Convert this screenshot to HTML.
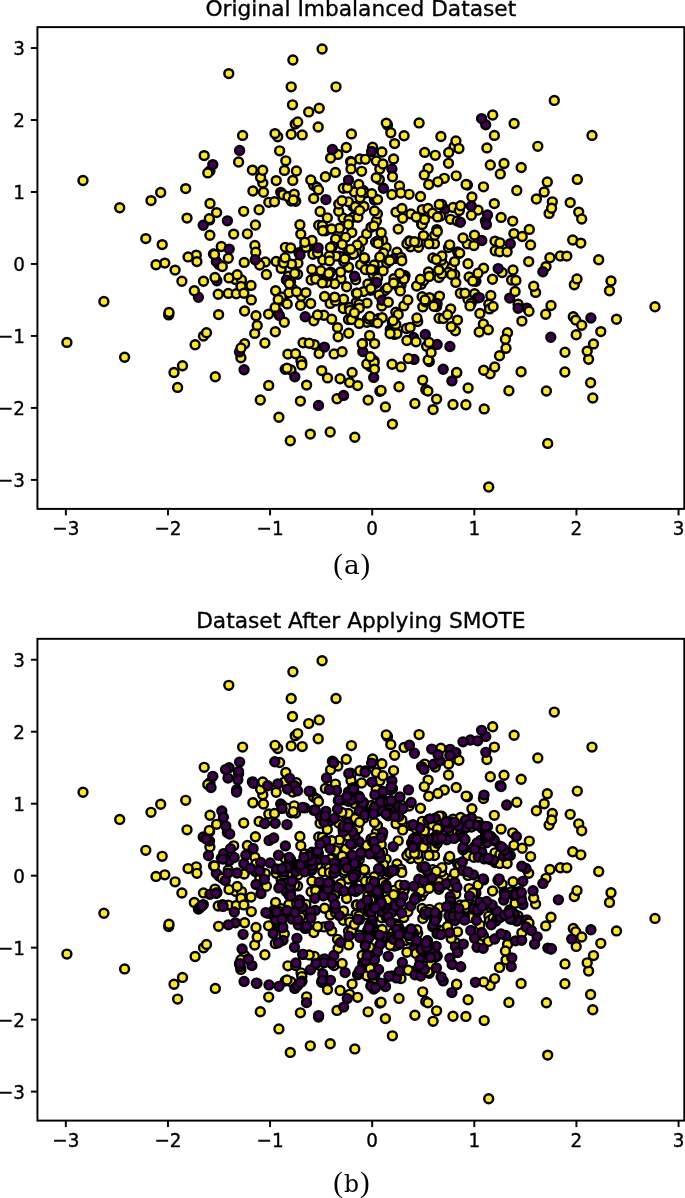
<!DOCTYPE html>
<html lang="en"><head><meta charset="utf-8"><title>SMOTE scatter plots</title>
<style>
html,body{margin:0;padding:0;background:#fff}
body{width:685px;height:1198px;overflow:hidden}
svg{display:block}
.tk,.tt{font-family:"DejaVu Sans","Liberation Sans",sans-serif;fill:#000;stroke:#000;stroke-width:0.35px}
.cp{font-family:"Liberation Serif","DejaVu Serif",serif;fill:#000}
.cpa{font-family:"DejaVu Serif","Liberation Serif",serif}
</style></head><body>
<svg width="685" height="1198" viewBox="0 0 685 1198">
<rect width="685" height="1198" fill="#fff"/>
<g stroke="#000" stroke-width="2.45">
<g fill="#fde725"><circle cx="277.7" cy="136.8" r="4.45"/><circle cx="528.7" cy="261.6" r="4.45"/></g><g fill="#440154"><circle cx="362.8" cy="351.6" r="4.45"/></g><g fill="#fde725"><circle cx="403.8" cy="305.9" r="4.45"/><circle cx="278.9" cy="417.2" r="4.45"/><circle cx="458.7" cy="253.4" r="4.45"/><circle cx="529.3" cy="229.4" r="4.45"/><circle cx="428.1" cy="168.4" r="4.45"/><circle cx="576.2" cy="334.7" r="4.45"/><circle cx="164.8" cy="263.1" r="4.45"/><circle cx="436.6" cy="306.5" r="4.45"/><circle cx="356.1" cy="302.6" r="4.45"/><circle cx="66.9" cy="342.4" r="4.45"/></g><g fill="#440154"><circle cx="390.3" cy="329.6" r="4.45"/></g><g fill="#fde725"><circle cx="235.4" cy="279.6" r="4.45"/><circle cx="359.8" cy="159.0" r="4.45"/><circle cx="292.9" cy="60.0" r="4.45"/><circle cx="288.3" cy="276.2" r="4.45"/><circle cx="521.9" cy="321.1" r="4.45"/></g><g fill="#440154"><circle cx="445.0" cy="209.3" r="4.45"/></g><g fill="#fde725"><circle cx="264.9" cy="343.0" r="4.45"/><circle cx="439.5" cy="296.1" r="4.45"/><circle cx="318.7" cy="225.2" r="4.45"/><circle cx="468.0" cy="263.7" r="4.45"/><circle cx="260.3" cy="400.0" r="4.45"/><circle cx="277.5" cy="312.2" r="4.45"/><circle cx="319.1" cy="353.6" r="4.45"/><circle cx="324.6" cy="296.5" r="4.45"/><circle cx="545.7" cy="314.2" r="4.45"/><circle cx="339.3" cy="256.1" r="4.45"/><circle cx="590.6" cy="382.8" r="4.45"/><circle cx="313.7" cy="253.5" r="4.45"/></g><g fill="#440154"><circle cx="367.5" cy="319.0" r="4.45"/><circle cx="318.5" cy="405.4" r="4.45"/><circle cx="239.6" cy="150.4" r="4.45"/></g><g fill="#fde725"><circle cx="573.3" cy="316.8" r="4.45"/><circle cx="488.8" cy="304.2" r="4.45"/><circle cx="311.1" cy="280.0" r="4.45"/><circle cx="195.1" cy="344.8" r="4.45"/><circle cx="401.0" cy="285.3" r="4.45"/></g><g fill="#440154"><circle cx="485.7" cy="124.7" r="4.45"/></g><g fill="#fde725"><circle cx="330.7" cy="272.1" r="4.45"/><circle cx="370.4" cy="366.6" r="4.45"/><circle cx="426.6" cy="346.3" r="4.45"/><circle cx="322.8" cy="260.0" r="4.45"/><circle cx="349.6" cy="382.6" r="4.45"/><circle cx="350.6" cy="161.5" r="4.45"/><circle cx="600.8" cy="331.6" r="4.45"/><circle cx="221.3" cy="246.5" r="4.45"/><circle cx="185.7" cy="188.6" r="4.45"/><circle cx="275.3" cy="331.8" r="4.45"/><circle cx="425.8" cy="389.7" r="4.45"/><circle cx="341.0" cy="278.7" r="4.45"/><circle cx="574.3" cy="284.8" r="4.45"/><circle cx="549.1" cy="213.4" r="4.45"/><circle cx="467.9" cy="299.3" r="4.45"/><circle cx="421.6" cy="224.3" r="4.45"/><circle cx="290.5" cy="281.8" r="4.45"/></g><g fill="#440154"><circle cx="305.2" cy="316.7" r="4.45"/></g><g fill="#fde725"><circle cx="394.6" cy="143.6" r="4.45"/><circle cx="454.1" cy="146.6" r="4.45"/><circle cx="351.8" cy="232.6" r="4.45"/></g><g fill="#440154"><circle cx="437.1" cy="344.4" r="4.45"/></g><g fill="#fde725"><circle cx="592.8" cy="398.0" r="4.45"/><circle cx="378.9" cy="318.4" r="4.45"/><circle cx="375.4" cy="276.5" r="4.45"/><circle cx="334.1" cy="353.9" r="4.45"/><circle cx="291.2" cy="86.8" r="4.45"/><circle cx="371.5" cy="319.7" r="4.45"/><circle cx="177.6" cy="387.4" r="4.45"/><circle cx="407.8" cy="300.0" r="4.45"/><circle cx="374.6" cy="283.0" r="4.45"/><circle cx="467.3" cy="243.9" r="4.45"/><circle cx="354.8" cy="437.2" r="4.45"/><circle cx="381.8" cy="306.0" r="4.45"/><circle cx="588.6" cy="359.3" r="4.45"/></g><g fill="#440154"><circle cx="227.4" cy="220.8" r="4.45"/></g><g fill="#fde725"><circle cx="384.9" cy="290.6" r="4.45"/><circle cx="353.3" cy="217.2" r="4.45"/><circle cx="379.9" cy="391.3" r="4.45"/></g><g fill="#440154"><circle cx="526.8" cy="308.1" r="4.45"/></g><g fill="#fde725"><circle cx="365.4" cy="159.3" r="4.45"/><circle cx="409.1" cy="241.0" r="4.45"/><circle cx="376.4" cy="220.9" r="4.45"/><circle cx="611.0" cy="281.0" r="4.45"/></g><g fill="#440154"><circle cx="481.8" cy="240.5" r="4.45"/></g><g fill="#fde725"><circle cx="310.3" cy="434.1" r="4.45"/><circle cx="209.9" cy="170.9" r="4.45"/><circle cx="348.6" cy="267.3" r="4.45"/><circle cx="255.4" cy="225.0" r="4.45"/><circle cx="490.1" cy="373.8" r="4.45"/><circle cx="432.9" cy="257.9" r="4.45"/><circle cx="287.9" cy="354.1" r="4.45"/><circle cx="374.1" cy="265.0" r="4.45"/><circle cx="103.9" cy="301.5" r="4.45"/><circle cx="362.5" cy="240.8" r="4.45"/><circle cx="279.6" cy="150.8" r="4.45"/><circle cx="324.6" cy="280.6" r="4.45"/></g><g fill="#440154"><circle cx="279.4" cy="315.4" r="4.45"/></g><g fill="#fde725"><circle cx="124.6" cy="357.2" r="4.45"/><circle cx="308.7" cy="111.9" r="4.45"/><circle cx="492.5" cy="279.3" r="4.45"/><circle cx="291.2" cy="134.2" r="4.45"/></g><g fill="#440154"><circle cx="325.9" cy="199.6" r="4.45"/></g><g fill="#fde725"><circle cx="313.6" cy="185.3" r="4.45"/><circle cx="422.3" cy="209.6" r="4.45"/><circle cx="367.0" cy="303.1" r="4.45"/></g><g fill="#440154"><circle cx="449.9" cy="346.5" r="4.45"/></g><g fill="#fde725"><circle cx="291.2" cy="201.1" r="4.45"/></g><g fill="#440154"><circle cx="413.5" cy="337.5" r="4.45"/></g><g fill="#fde725"><circle cx="119.7" cy="207.7" r="4.45"/><circle cx="254.9" cy="245.5" r="4.45"/><circle cx="406.4" cy="328.5" r="4.45"/><circle cx="512.7" cy="221.1" r="4.45"/><circle cx="474.6" cy="293.8" r="4.45"/></g><g fill="#440154"><circle cx="198.4" cy="297.3" r="4.45"/></g><g fill="#fde725"><circle cx="471.3" cy="303.1" r="4.45"/><circle cx="529.0" cy="311.3" r="4.45"/><circle cx="151.0" cy="200.6" r="4.45"/><circle cx="549.9" cy="257.8" r="4.45"/><circle cx="440.6" cy="216.1" r="4.45"/><circle cx="343.3" cy="188.2" r="4.45"/><circle cx="243.7" cy="211.3" r="4.45"/><circle cx="283.9" cy="301.2" r="4.45"/><circle cx="513.9" cy="233.6" r="4.45"/><circle cx="499.5" cy="355.7" r="4.45"/><circle cx="357.6" cy="385.6" r="4.45"/><circle cx="410.5" cy="246.8" r="4.45"/><circle cx="343.6" cy="299.3" r="4.45"/><circle cx="302.2" cy="134.9" r="4.45"/><circle cx="421.3" cy="284.2" r="4.45"/><circle cx="219.0" cy="264.4" r="4.45"/><circle cx="213.5" cy="254.0" r="4.45"/><circle cx="160.7" cy="192.5" r="4.45"/><circle cx="450.5" cy="219.3" r="4.45"/><circle cx="355.7" cy="279.8" r="4.45"/><circle cx="410.1" cy="327.4" r="4.45"/><circle cx="429.3" cy="361.6" r="4.45"/><circle cx="372.9" cy="321.8" r="4.45"/><circle cx="386.1" cy="247.4" r="4.45"/><circle cx="483.7" cy="370.2" r="4.45"/></g><g fill="#440154"><circle cx="392.4" cy="322.5" r="4.45"/></g><g fill="#fde725"><circle cx="304.8" cy="246.8" r="4.45"/><circle cx="444.7" cy="266.0" r="4.45"/><circle cx="453.0" cy="404.5" r="4.45"/><circle cx="495.2" cy="250.8" r="4.45"/></g><g fill="#440154"><circle cx="373.7" cy="377.4" r="4.45"/></g><g fill="#fde725"><circle cx="511.6" cy="280.1" r="4.45"/><circle cx="196.3" cy="255.1" r="4.45"/><circle cx="375.3" cy="282.5" r="4.45"/><circle cx="489.5" cy="308.9" r="4.45"/><circle cx="385.4" cy="406.9" r="4.45"/><circle cx="285.4" cy="247.3" r="4.45"/><circle cx="196.9" cy="261.6" r="4.45"/><circle cx="564.9" cy="372.0" r="4.45"/><circle cx="448.5" cy="163.3" r="4.45"/><circle cx="483.4" cy="324.0" r="4.45"/><circle cx="377.4" cy="213.8" r="4.45"/><circle cx="241.5" cy="279.9" r="4.45"/><circle cx="295.2" cy="124.0" r="4.45"/><circle cx="402.7" cy="218.2" r="4.45"/><circle cx="423.7" cy="280.4" r="4.45"/></g><g fill="#440154"><circle cx="363.0" cy="190.3" r="4.45"/></g><g fill="#fde725"><circle cx="565.0" cy="352.2" r="4.45"/><circle cx="353.1" cy="206.4" r="4.45"/><circle cx="228.3" cy="293.4" r="4.45"/><circle cx="373.2" cy="274.5" r="4.45"/><circle cx="460.3" cy="293.2" r="4.45"/><circle cx="456.2" cy="175.8" r="4.45"/><circle cx="296.4" cy="171.0" r="4.45"/><circle cx="387.5" cy="124.9" r="4.45"/><circle cx="398.2" cy="229.1" r="4.45"/><circle cx="336.0" cy="256.1" r="4.45"/><circle cx="428.0" cy="208.5" r="4.45"/><circle cx="216.6" cy="212.6" r="4.45"/><circle cx="508.9" cy="390.7" r="4.45"/></g><g fill="#440154"><circle cx="437.1" cy="303.5" r="4.45"/></g><g fill="#fde725"><circle cx="507.5" cy="332.7" r="4.45"/><circle cx="292.6" cy="288.8" r="4.45"/><circle cx="359.3" cy="247.9" r="4.45"/><circle cx="295.7" cy="201.3" r="4.45"/><circle cx="346.3" cy="147.5" r="4.45"/><circle cx="444.3" cy="178.3" r="4.45"/><circle cx="521.2" cy="167.5" r="4.45"/><circle cx="207.8" cy="172.9" r="4.45"/><circle cx="285.8" cy="160.8" r="4.45"/><circle cx="354.4" cy="191.9" r="4.45"/><circle cx="477.3" cy="297.9" r="4.45"/><circle cx="287.2" cy="303.9" r="4.45"/><circle cx="471.9" cy="197.0" r="4.45"/><circle cx="345.6" cy="237.3" r="4.45"/><circle cx="318.3" cy="315.1" r="4.45"/><circle cx="240.9" cy="357.7" r="4.45"/><circle cx="417.7" cy="321.5" r="4.45"/></g><g fill="#440154"><circle cx="475.9" cy="281.3" r="4.45"/></g><g fill="#fde725"><circle cx="290.7" cy="248.0" r="4.45"/><circle cx="335.4" cy="172.4" r="4.45"/><circle cx="370.6" cy="290.3" r="4.45"/><circle cx="469.1" cy="276.9" r="4.45"/><circle cx="312.9" cy="254.2" r="4.45"/><circle cx="455.9" cy="140.9" r="4.45"/><circle cx="337.5" cy="327.6" r="4.45"/><circle cx="300.6" cy="305.2" r="4.45"/><circle cx="343.3" cy="308.5" r="4.45"/></g><g fill="#440154"><circle cx="391.9" cy="169.0" r="4.45"/></g><g fill="#fde725"><circle cx="501.1" cy="217.4" r="4.45"/><circle cx="451.5" cy="268.0" r="4.45"/><circle cx="515.9" cy="280.4" r="4.45"/><circle cx="290.3" cy="440.7" r="4.45"/><circle cx="448.4" cy="272.2" r="4.45"/><circle cx="387.4" cy="288.0" r="4.45"/></g><g fill="#440154"><circle cx="374.4" cy="200.1" r="4.45"/></g><g fill="#fde725"><circle cx="506.0" cy="348.3" r="4.45"/><circle cx="575.7" cy="320.1" r="4.45"/><circle cx="484.2" cy="408.9" r="4.45"/><circle cx="356.3" cy="293.2" r="4.45"/><circle cx="547.7" cy="443.4" r="4.45"/></g><g fill="#440154"><circle cx="280.7" cy="192.3" r="4.45"/></g><g fill="#fde725"><circle cx="457.7" cy="252.0" r="4.45"/><circle cx="209.6" cy="219.9" r="4.45"/><circle cx="457.3" cy="220.9" r="4.45"/><circle cx="334.7" cy="283.8" r="4.45"/><circle cx="416.9" cy="318.0" r="4.45"/><circle cx="514.1" cy="123.5" r="4.45"/><circle cx="288.9" cy="292.8" r="4.45"/><circle cx="367.9" cy="284.0" r="4.45"/><circle cx="379.3" cy="179.4" r="4.45"/></g><g fill="#440154"><circle cx="216.3" cy="261.6" r="4.45"/></g><g fill="#fde725"><circle cx="348.3" cy="201.8" r="4.45"/><circle cx="275.6" cy="290.8" r="4.45"/><circle cx="330.2" cy="432.0" r="4.45"/><circle cx="303.1" cy="342.7" r="4.45"/><circle cx="434.5" cy="243.8" r="4.45"/><circle cx="366.8" cy="364.0" r="4.45"/><circle cx="494.7" cy="366.9" r="4.45"/><circle cx="399.0" cy="386.7" r="4.45"/><circle cx="182.5" cy="365.7" r="4.45"/><circle cx="228.3" cy="258.3" r="4.45"/><circle cx="465.9" cy="404.7" r="4.45"/></g><g fill="#440154"><circle cx="244.1" cy="369.8" r="4.45"/></g><g fill="#fde725"><circle cx="360.6" cy="264.8" r="4.45"/><circle cx="369.6" cy="335.5" r="4.45"/><circle cx="268.8" cy="202.3" r="4.45"/><circle cx="268.6" cy="314.1" r="4.45"/><circle cx="398.4" cy="286.7" r="4.45"/><circle cx="317.6" cy="253.1" r="4.45"/><circle cx="318.2" cy="127.0" r="4.45"/><circle cx="473.9" cy="245.6" r="4.45"/><circle cx="310.7" cy="303.5" r="4.45"/><circle cx="479.9" cy="313.4" r="4.45"/><circle cx="313.7" cy="198.5" r="4.45"/><circle cx="379.1" cy="295.0" r="4.45"/><circle cx="340.1" cy="378.8" r="4.45"/><circle cx="578.7" cy="212.1" r="4.45"/><circle cx="355.3" cy="206.8" r="4.45"/><circle cx="275.1" cy="307.4" r="4.45"/><circle cx="242.6" cy="135.4" r="4.45"/><circle cx="474.5" cy="235.1" r="4.45"/><circle cx="655.0" cy="306.7" r="4.45"/><circle cx="309.3" cy="243.4" r="4.45"/></g><g fill="#440154"><circle cx="354.6" cy="276.2" r="4.45"/><circle cx="212.8" cy="164.6" r="4.45"/></g><g fill="#fde725"><circle cx="435.3" cy="155.3" r="4.45"/><circle cx="379.8" cy="169.1" r="4.45"/><circle cx="530.6" cy="244.9" r="4.45"/><circle cx="361.6" cy="171.3" r="4.45"/><circle cx="326.7" cy="282.5" r="4.45"/><circle cx="252.4" cy="170.1" r="4.45"/><circle cx="570.2" cy="202.6" r="4.45"/><circle cx="338.4" cy="231.7" r="4.45"/><circle cx="348.8" cy="253.2" r="4.45"/><circle cx="405.0" cy="275.8" r="4.45"/><circle cx="352.0" cy="254.2" r="4.45"/><circle cx="209.3" cy="218.7" r="4.45"/></g><g fill="#440154"><circle cx="216.9" cy="280.8" r="4.45"/></g><g fill="#fde725"><circle cx="374.0" cy="360.7" r="4.45"/><circle cx="395.8" cy="312.2" r="4.45"/><circle cx="214.5" cy="254.4" r="4.45"/><circle cx="374.1" cy="362.5" r="4.45"/><circle cx="546.0" cy="266.6" r="4.45"/><circle cx="310.8" cy="179.9" r="4.45"/><circle cx="392.4" cy="424.1" r="4.45"/><circle cx="215.3" cy="376.7" r="4.45"/><circle cx="229.0" cy="277.9" r="4.45"/><circle cx="441.7" cy="204.5" r="4.45"/><circle cx="374.5" cy="369.1" r="4.45"/><circle cx="382.2" cy="317.7" r="4.45"/><circle cx="453.1" cy="207.4" r="4.45"/><circle cx="218.2" cy="294.3" r="4.45"/><circle cx="268.7" cy="385.4" r="4.45"/><circle cx="236.3" cy="293.7" r="4.45"/><circle cx="376.3" cy="160.9" r="4.45"/><circle cx="366.9" cy="322.2" r="4.45"/><circle cx="397.0" cy="252.2" r="4.45"/></g><g fill="#440154"><circle cx="382.1" cy="300.2" r="4.45"/></g><g fill="#fde725"><circle cx="394.5" cy="334.4" r="4.45"/><circle cx="343.8" cy="261.4" r="4.45"/><circle cx="292.8" cy="180.4" r="4.45"/><circle cx="454.7" cy="274.5" r="4.45"/><circle cx="416.0" cy="341.8" r="4.45"/><circle cx="356.4" cy="252.0" r="4.45"/><circle cx="358.8" cy="184.4" r="4.45"/></g><g fill="#440154"><circle cx="229.2" cy="249.1" r="4.45"/></g><g fill="#fde725"><circle cx="181.9" cy="281.3" r="4.45"/><circle cx="203.5" cy="281.2" r="4.45"/><circle cx="348.7" cy="333.2" r="4.45"/><circle cx="483.6" cy="268.2" r="4.45"/><circle cx="552.3" cy="201.8" r="4.45"/><circle cx="299.9" cy="224.7" r="4.45"/><circle cx="241.0" cy="286.5" r="4.45"/><circle cx="488.3" cy="329.7" r="4.45"/><circle cx="490.8" cy="295.4" r="4.45"/><circle cx="382.6" cy="240.0" r="4.45"/><circle cx="438.9" cy="277.6" r="4.45"/><circle cx="276.2" cy="261.5" r="4.45"/><circle cx="316.9" cy="187.2" r="4.45"/><circle cx="454.6" cy="261.6" r="4.45"/><circle cx="322.4" cy="225.6" r="4.45"/><circle cx="393.6" cy="158.9" r="4.45"/><circle cx="394.9" cy="258.4" r="4.45"/><circle cx="441.5" cy="260.3" r="4.45"/><circle cx="492.7" cy="115.0" r="4.45"/><circle cx="433.8" cy="306.2" r="4.45"/><circle cx="339.5" cy="228.2" r="4.45"/><circle cx="551.6" cy="208.2" r="4.45"/></g><g fill="#440154"><circle cx="203.2" cy="225.2" r="4.45"/></g><g fill="#fde725"><circle cx="609.5" cy="290.7" r="4.45"/><circle cx="396.0" cy="212.1" r="4.45"/><circle cx="418.5" cy="247.2" r="4.45"/><circle cx="174.0" cy="372.5" r="4.45"/><circle cx="381.9" cy="152.0" r="4.45"/><circle cx="375.6" cy="242.2" r="4.45"/><circle cx="502.1" cy="272.5" r="4.45"/></g><g fill="#440154"><circle cx="485.4" cy="221.0" r="4.45"/></g><g fill="#fde725"><circle cx="401.9" cy="208.4" r="4.45"/><circle cx="327.5" cy="377.9" r="4.45"/><circle cx="359.0" cy="304.1" r="4.45"/><circle cx="495.0" cy="241.1" r="4.45"/><circle cx="318.5" cy="189.8" r="4.45"/><circle cx="352.3" cy="316.2" r="4.45"/><circle cx="301.3" cy="296.2" r="4.45"/><circle cx="436.6" cy="399.1" r="4.45"/><circle cx="262.8" cy="183.1" r="4.45"/><circle cx="386.8" cy="263.2" r="4.45"/><circle cx="218.6" cy="314.6" r="4.45"/><circle cx="368.1" cy="400.1" r="4.45"/><circle cx="281.2" cy="268.4" r="4.45"/><circle cx="440.9" cy="136.5" r="4.45"/></g><g fill="#440154"><circle cx="550.8" cy="337.3" r="4.45"/></g><g fill="#fde725"><circle cx="375.2" cy="283.4" r="4.45"/></g><g fill="#440154"><circle cx="318.1" cy="247.8" r="4.45"/></g><g fill="#fde725"><circle cx="256.0" cy="315.7" r="4.45"/><circle cx="441.9" cy="255.9" r="4.45"/><circle cx="243.9" cy="293.2" r="4.45"/><circle cx="359.3" cy="308.1" r="4.45"/><circle cx="399.5" cy="185.9" r="4.45"/><circle cx="359.2" cy="323.4" r="4.45"/><circle cx="386.3" cy="123.1" r="4.45"/><circle cx="296.6" cy="291.7" r="4.45"/><circle cx="329.3" cy="256.0" r="4.45"/><circle cx="266.4" cy="274.5" r="4.45"/><circle cx="335.6" cy="238.9" r="4.45"/><circle cx="364.7" cy="258.8" r="4.45"/><circle cx="376.2" cy="177.7" r="4.45"/><circle cx="382.9" cy="164.0" r="4.45"/><circle cx="311.9" cy="269.4" r="4.45"/><circle cx="378.3" cy="240.6" r="4.45"/><circle cx="470.0" cy="305.9" r="4.45"/><circle cx="251.3" cy="299.9" r="4.45"/><circle cx="459.3" cy="210.6" r="4.45"/><circle cx="459.7" cy="253.1" r="4.45"/><circle cx="222.3" cy="266.5" r="4.45"/><circle cx="396.9" cy="333.6" r="4.45"/><circle cx="284.4" cy="170.4" r="4.45"/><circle cx="432.5" cy="213.2" r="4.45"/><circle cx="410.9" cy="213.9" r="4.45"/><circle cx="581.7" cy="219.0" r="4.45"/><circle cx="374.5" cy="210.9" r="4.45"/><circle cx="451.6" cy="274.4" r="4.45"/><circle cx="406.9" cy="340.5" r="4.45"/><circle cx="320.8" cy="270.8" r="4.45"/><circle cx="281.3" cy="297.0" r="4.45"/><circle cx="340.6" cy="272.0" r="4.45"/><circle cx="332.3" cy="246.5" r="4.45"/><circle cx="357.2" cy="244.9" r="4.45"/><circle cx="297.9" cy="263.3" r="4.45"/><circle cx="424.7" cy="152.4" r="4.45"/><circle cx="460.6" cy="205.7" r="4.45"/><circle cx="400.3" cy="290.9" r="4.45"/><circle cx="343.1" cy="217.9" r="4.45"/><circle cx="210.0" cy="203.5" r="4.45"/><circle cx="260.6" cy="177.6" r="4.45"/><circle cx="522.2" cy="236.5" r="4.45"/><circle cx="251.0" cy="285.4" r="4.45"/><circle cx="494.4" cy="135.4" r="4.45"/><circle cx="428.1" cy="359.9" r="4.45"/><circle cx="314.3" cy="344.6" r="4.45"/><circle cx="516.8" cy="190.5" r="4.45"/><circle cx="323.9" cy="315.2" r="4.45"/></g><g fill="#440154"><circle cx="347.9" cy="250.1" r="4.45"/></g><g fill="#fde725"><circle cx="203.5" cy="336.1" r="4.45"/><circle cx="247.4" cy="233.8" r="4.45"/><circle cx="406.9" cy="243.7" r="4.45"/></g><g fill="#440154"><circle cx="443.2" cy="369.2" r="4.45"/></g><g fill="#fde725"><circle cx="513.0" cy="270.0" r="4.45"/><circle cx="364.0" cy="206.4" r="4.45"/><circle cx="458.9" cy="148.5" r="4.45"/><circle cx="598.7" cy="259.8" r="4.45"/><circle cx="252.9" cy="191.0" r="4.45"/><circle cx="368.9" cy="319.0" r="4.45"/><circle cx="441.7" cy="273.9" r="4.45"/><circle cx="436.3" cy="259.5" r="4.45"/><circle cx="285.2" cy="369.3" r="4.45"/><circle cx="499.7" cy="251.7" r="4.45"/></g><g fill="#440154"><circle cx="498.2" cy="268.6" r="4.45"/></g><g fill="#fde725"><circle cx="364.9" cy="192.9" r="4.45"/><circle cx="394.0" cy="278.6" r="4.45"/><circle cx="265.3" cy="261.9" r="4.45"/><circle cx="377.5" cy="199.6" r="4.45"/><circle cx="325.6" cy="230.7" r="4.45"/><circle cx="429.5" cy="297.6" r="4.45"/><circle cx="422.1" cy="296.8" r="4.45"/></g><g fill="#440154"><circle cx="414.0" cy="359.4" r="4.45"/></g><g fill="#fde725"><circle cx="284.3" cy="322.3" r="4.45"/><circle cx="472.7" cy="281.0" r="4.45"/><circle cx="372.6" cy="147.2" r="4.45"/></g><g fill="#440154"><circle cx="371.6" cy="151.5" r="4.45"/></g><g fill="#fde725"><circle cx="330.2" cy="303.4" r="4.45"/><circle cx="254.7" cy="333.4" r="4.45"/><circle cx="156.0" cy="264.7" r="4.45"/><circle cx="427.9" cy="391.1" r="4.45"/><circle cx="383.6" cy="253.0" r="4.45"/><circle cx="342.1" cy="351.7" r="4.45"/><circle cx="300.4" cy="401.1" r="4.45"/><circle cx="483.5" cy="186.8" r="4.45"/><circle cx="391.9" cy="194.5" r="4.45"/><circle cx="259.7" cy="265.0" r="4.45"/><circle cx="428.9" cy="243.8" r="4.45"/><circle cx="494.3" cy="203.6" r="4.45"/><circle cx="374.6" cy="343.6" r="4.45"/><circle cx="463.0" cy="238.0" r="4.45"/><circle cx="315.7" cy="279.1" r="4.45"/><circle cx="404.3" cy="277.5" r="4.45"/><circle cx="335.5" cy="300.9" r="4.45"/><circle cx="392.0" cy="364.2" r="4.45"/><circle cx="572.7" cy="240.0" r="4.45"/><circle cx="536.4" cy="199.0" r="4.45"/><circle cx="457.5" cy="320.1" r="4.45"/><circle cx="83.0" cy="180.5" r="4.45"/></g><g fill="#440154"><circle cx="324.4" cy="347.1" r="4.45"/></g><g fill="#fde725"><circle cx="337.8" cy="154.4" r="4.45"/><circle cx="366.7" cy="233.7" r="4.45"/><circle cx="325.4" cy="176.7" r="4.45"/></g><g fill="#440154"><circle cx="510.3" cy="243.7" r="4.45"/></g><g fill="#fde725"><circle cx="290.9" cy="370.0" r="4.45"/><circle cx="233.7" cy="234.1" r="4.45"/><circle cx="282.8" cy="261.7" r="4.45"/><circle cx="420.5" cy="196.5" r="4.45"/><circle cx="175.1" cy="270.1" r="4.45"/><circle cx="342.2" cy="244.5" r="4.45"/><circle cx="204.2" cy="155.6" r="4.45"/><circle cx="322.3" cy="283.1" r="4.45"/><circle cx="479.2" cy="332.0" r="4.45"/><circle cx="336.0" cy="86.8" r="4.45"/><circle cx="244.2" cy="262.4" r="4.45"/><circle cx="363.6" cy="291.6" r="4.45"/><circle cx="393.6" cy="283.0" r="4.45"/><circle cx="371.0" cy="227.2" r="4.45"/><circle cx="490.3" cy="165.0" r="4.45"/><circle cx="362.5" cy="344.0" r="4.45"/><circle cx="353.6" cy="254.0" r="4.45"/><circle cx="187.0" cy="218.1" r="4.45"/><circle cx="455.4" cy="330.7" r="4.45"/><circle cx="434.7" cy="235.3" r="4.45"/><circle cx="535.6" cy="292.4" r="4.45"/><circle cx="409.1" cy="194.3" r="4.45"/><circle cx="438.8" cy="270.1" r="4.45"/><circle cx="357.9" cy="217.2" r="4.45"/><circle cx="337.0" cy="398.7" r="4.45"/><circle cx="244.6" cy="343.7" r="4.45"/><circle cx="301.8" cy="362.5" r="4.45"/><circle cx="505.4" cy="339.3" r="4.45"/><circle cx="431.1" cy="352.4" r="4.45"/><circle cx="301.0" cy="361.1" r="4.45"/><circle cx="263.5" cy="192.3" r="4.45"/><circle cx="414.9" cy="403.5" r="4.45"/><circle cx="554.3" cy="100.4" r="4.45"/><circle cx="348.5" cy="319.5" r="4.45"/><circle cx="518.1" cy="304.3" r="4.45"/><circle cx="577.0" cy="278.9" r="4.45"/><circle cx="297.7" cy="121.9" r="4.45"/></g><g fill="#440154"><circle cx="373.8" cy="270.2" r="4.45"/></g><g fill="#fde725"><circle cx="390.1" cy="333.5" r="4.45"/><circle cx="348.9" cy="219.6" r="4.45"/><circle cx="359.6" cy="210.5" r="4.45"/><circle cx="300.8" cy="234.1" r="4.45"/><circle cx="291.5" cy="264.1" r="4.45"/><circle cx="313.8" cy="320.8" r="4.45"/><circle cx="422.8" cy="306.9" r="4.45"/><circle cx="395.8" cy="324.4" r="4.45"/><circle cx="400.8" cy="193.0" r="4.45"/><circle cx="467.4" cy="185.0" r="4.45"/><circle cx="448.5" cy="247.5" r="4.45"/><circle cx="194.3" cy="290.7" r="4.45"/><circle cx="466.1" cy="184.4" r="4.45"/></g><g fill="#440154"><circle cx="294.8" cy="376.7" r="4.45"/></g><g fill="#fde725"><circle cx="327.3" cy="217.8" r="4.45"/><circle cx="401.0" cy="366.9" r="4.45"/></g><g fill="#440154"><circle cx="299.0" cy="252.7" r="4.45"/></g><g fill="#fde725"><circle cx="451.2" cy="326.8" r="4.45"/></g><g fill="#440154"><circle cx="300.0" cy="254.9" r="4.45"/></g><g fill="#fde725"><circle cx="338.1" cy="336.8" r="4.45"/></g><g fill="#440154"><circle cx="509.7" cy="298.1" r="4.45"/></g><g fill="#fde725"><circle cx="422.2" cy="224.5" r="4.45"/><circle cx="577.3" cy="179.4" r="4.45"/><circle cx="429.1" cy="342.5" r="4.45"/><circle cx="255.8" cy="252.2" r="4.45"/><circle cx="580.8" cy="243.1" r="4.45"/></g><g fill="#440154"><circle cx="590.9" cy="318.0" r="4.45"/></g><g fill="#fde725"><circle cx="347.4" cy="187.8" r="4.45"/><circle cx="366.1" cy="269.6" r="4.45"/><circle cx="381.2" cy="232.7" r="4.45"/><circle cx="331.5" cy="229.0" r="4.45"/><circle cx="504.0" cy="163.5" r="4.45"/></g><g fill="#440154"><circle cx="479.3" cy="297.6" r="4.45"/></g><g fill="#fde725"><circle cx="450.7" cy="308.9" r="4.45"/><circle cx="338.7" cy="211.3" r="4.45"/></g><g fill="#440154"><circle cx="383.4" cy="188.2" r="4.45"/></g><g fill="#fde725"><circle cx="228.8" cy="73.6" r="4.45"/><circle cx="306.6" cy="385.1" r="4.45"/></g><g fill="#440154"><circle cx="328.1" cy="275.7" r="4.45"/></g><g fill="#fde725"><circle cx="283.0" cy="194.7" r="4.45"/><circle cx="404.0" cy="279.0" r="4.45"/><circle cx="408.3" cy="358.5" r="4.45"/><circle cx="616.5" cy="319.2" r="4.45"/><circle cx="390.8" cy="132.7" r="4.45"/><circle cx="439.0" cy="318.2" r="4.45"/><circle cx="455.8" cy="282.4" r="4.45"/><circle cx="560.3" cy="256.0" r="4.45"/><circle cx="383.1" cy="270.7" r="4.45"/><circle cx="353.4" cy="315.6" r="4.45"/><circle cx="319.2" cy="108.2" r="4.45"/></g><g fill="#440154"><circle cx="388.6" cy="260.1" r="4.45"/></g><g fill="#fde725"><circle cx="437.9" cy="181.8" r="4.45"/><circle cx="301.8" cy="364.9" r="4.45"/><circle cx="364.3" cy="257.7" r="4.45"/><circle cx="500.3" cy="173.9" r="4.45"/><circle cx="317.5" cy="314.9" r="4.45"/><circle cx="168.7" cy="314.9" r="4.45"/><circle cx="322.1" cy="49.0" r="4.45"/><circle cx="399.7" cy="273.4" r="4.45"/><circle cx="360.0" cy="197.8" r="4.45"/><circle cx="381.1" cy="390.5" r="4.45"/><circle cx="456.6" cy="372.8" r="4.45"/><circle cx="188.1" cy="256.9" r="4.45"/><circle cx="351.4" cy="133.9" r="4.45"/><circle cx="320.1" cy="211.5" r="4.45"/><circle cx="515.1" cy="291.5" r="4.45"/><circle cx="257.2" cy="325.4" r="4.45"/><circle cx="348.4" cy="224.5" r="4.45"/><circle cx="276.2" cy="180.6" r="4.45"/><circle cx="330.4" cy="247.4" r="4.45"/><circle cx="551.0" cy="305.5" r="4.45"/><circle cx="351.3" cy="162.3" r="4.45"/><circle cx="338.8" cy="204.1" r="4.45"/></g><g fill="#440154"><circle cx="518.1" cy="308.2" r="4.45"/></g><g fill="#fde725"><circle cx="544.2" cy="192.0" r="4.45"/><circle cx="341.9" cy="200.7" r="4.45"/></g><g fill="#440154"><circle cx="286.4" cy="280.1" r="4.45"/></g><g fill="#fde725"><circle cx="388.3" cy="302.3" r="4.45"/><circle cx="416.6" cy="286.0" r="4.45"/><circle cx="377.6" cy="278.2" r="4.45"/><circle cx="322.7" cy="230.7" r="4.45"/><circle cx="417.7" cy="242.4" r="4.45"/><circle cx="373.9" cy="225.9" r="4.45"/></g><g fill="#440154"><circle cx="542.9" cy="271.7" r="4.45"/></g><g fill="#fde725"><circle cx="287.0" cy="368.3" r="4.45"/><circle cx="373.5" cy="319.3" r="4.45"/><circle cx="436.8" cy="229.6" r="4.45"/><circle cx="349.4" cy="307.4" r="4.45"/><circle cx="351.5" cy="319.6" r="4.45"/><circle cx="420.5" cy="279.3" r="4.45"/><circle cx="587.2" cy="351.1" r="4.45"/><circle cx="468.1" cy="388.0" r="4.45"/><circle cx="437.3" cy="231.6" r="4.45"/><circle cx="349.8" cy="310.4" r="4.45"/><circle cx="275.0" cy="133.6" r="4.45"/></g><g fill="#440154"><circle cx="394.6" cy="258.4" r="4.45"/></g><g fill="#fde725"><circle cx="371.7" cy="193.7" r="4.45"/><circle cx="419.1" cy="122.9" r="4.45"/><circle cx="283.6" cy="263.0" r="4.45"/></g><g fill="#440154"><circle cx="487.5" cy="214.9" r="4.45"/></g><g fill="#fde725"><circle cx="425.5" cy="301.8" r="4.45"/><circle cx="401.1" cy="257.5" r="4.45"/><circle cx="392.5" cy="176.7" r="4.45"/><circle cx="537.8" cy="146.3" r="4.45"/><circle cx="244.6" cy="311.0" r="4.45"/><circle cx="365.4" cy="269.5" r="4.45"/><circle cx="362.2" cy="343.7" r="4.45"/><circle cx="330.6" cy="158.1" r="4.45"/></g><g fill="#440154"><circle cx="332.4" cy="149.5" r="4.45"/><circle cx="239.5" cy="351.9" r="4.45"/></g><g fill="#fde725"><circle cx="237.2" cy="274.8" r="4.45"/><circle cx="321.7" cy="370.6" r="4.45"/><circle cx="312.0" cy="240.5" r="4.45"/><circle cx="354.4" cy="312.7" r="4.45"/><circle cx="443.3" cy="318.6" r="4.45"/><circle cx="346.6" cy="286.8" r="4.45"/><circle cx="352.1" cy="372.4" r="4.45"/><circle cx="238.6" cy="162.0" r="4.45"/><circle cx="422.7" cy="380.1" r="4.45"/></g><g fill="#440154"><circle cx="486.4" cy="224.4" r="4.45"/></g><g fill="#fde725"><circle cx="297.6" cy="274.2" r="4.45"/><circle cx="369.8" cy="316.4" r="4.45"/><circle cx="428.5" cy="271.9" r="4.45"/><circle cx="379.8" cy="257.0" r="4.45"/></g><g fill="#440154"><circle cx="376.7" cy="282.4" r="4.45"/></g><g fill="#fde725"><circle cx="262.7" cy="170.2" r="4.45"/><circle cx="409.9" cy="241.5" r="4.45"/><circle cx="423.5" cy="235.6" r="4.45"/><circle cx="424.3" cy="174.9" r="4.45"/><circle cx="447.5" cy="314.8" r="4.45"/><circle cx="206.5" cy="332.7" r="4.45"/><circle cx="292.5" cy="104.8" r="4.45"/><circle cx="169.0" cy="312.5" r="4.45"/><circle cx="309.2" cy="343.2" r="4.45"/><circle cx="274.5" cy="201.7" r="4.45"/><circle cx="486.9" cy="147.9" r="4.45"/><circle cx="370.8" cy="288.6" r="4.45"/><circle cx="433.1" cy="409.6" r="4.45"/><circle cx="404.1" cy="135.7" r="4.45"/><circle cx="428.7" cy="184.5" r="4.45"/><circle cx="350.7" cy="249.3" r="4.45"/><circle cx="414.5" cy="241.7" r="4.45"/><circle cx="259.1" cy="209.7" r="4.45"/><circle cx="344.7" cy="259.0" r="4.45"/><circle cx="306.0" cy="247.3" r="4.45"/><circle cx="547.3" cy="182.0" r="4.45"/></g><g fill="#440154"><circle cx="425.3" cy="334.4" r="4.45"/></g><g fill="#fde725"><circle cx="288.0" cy="196.6" r="4.45"/><circle cx="357.1" cy="293.3" r="4.45"/><circle cx="295.6" cy="353.7" r="4.45"/><circle cx="424.5" cy="219.4" r="4.45"/><circle cx="592.0" cy="135.4" r="4.45"/><circle cx="378.0" cy="243.5" r="4.45"/><circle cx="456.7" cy="372.5" r="4.45"/><circle cx="328.8" cy="273.5" r="4.45"/><circle cx="429.2" cy="276.5" r="4.45"/><circle cx="546.4" cy="391.0" r="4.45"/><circle cx="425.0" cy="299.9" r="4.45"/><circle cx="351.0" cy="168.9" r="4.45"/><circle cx="437.5" cy="216.9" r="4.45"/><circle cx="370.2" cy="356.8" r="4.45"/><circle cx="289.3" cy="283.7" r="4.45"/></g><g fill="#440154"><circle cx="451.9" cy="380.9" r="4.45"/></g><g fill="#fde725"><circle cx="478.0" cy="210.1" r="4.45"/><circle cx="215.0" cy="277.4" r="4.45"/><circle cx="294.2" cy="194.1" r="4.45"/><circle cx="285.1" cy="257.8" r="4.45"/><circle cx="581.7" cy="325.3" r="4.45"/><circle cx="398.2" cy="314.5" r="4.45"/><circle cx="361.2" cy="192.0" r="4.45"/><circle cx="294.7" cy="273.5" r="4.45"/><circle cx="448.7" cy="152.4" r="4.45"/><circle cx="493.1" cy="306.4" r="4.45"/><circle cx="488.7" cy="487.0" r="4.45"/><circle cx="566.8" cy="256.1" r="4.45"/></g><g fill="#440154"><circle cx="348.5" cy="180.1" r="4.45"/></g><g fill="#fde725"><circle cx="471.4" cy="215.3" r="4.45"/><circle cx="145.8" cy="238.6" r="4.45"/><circle cx="371.1" cy="269.5" r="4.45"/></g><g fill="#440154"><circle cx="460.4" cy="222.2" r="4.45"/></g><g fill="#fde725"><circle cx="209.9" cy="235.2" r="4.45"/><circle cx="393.1" cy="320.8" r="4.45"/><circle cx="241.0" cy="348.0" r="4.45"/></g><g fill="#440154"><circle cx="343.6" cy="395.4" r="4.45"/><circle cx="481.6" cy="118.6" r="4.45"/></g><g fill="#fde725"><circle cx="533.7" cy="286.3" r="4.45"/><circle cx="521.1" cy="371.7" r="4.45"/><circle cx="329.5" cy="260.9" r="4.45"/><circle cx="331.7" cy="319.2" r="4.45"/><circle cx="305.9" cy="292.6" r="4.45"/><circle cx="507.1" cy="251.8" r="4.45"/><circle cx="439.3" cy="204.4" r="4.45"/><circle cx="416.2" cy="217.0" r="4.45"/><circle cx="499.9" cy="242.8" r="4.45"/><circle cx="465.0" cy="293.3" r="4.45"/><circle cx="162.2" cy="244.6" r="4.45"/><circle cx="304.8" cy="242.2" r="4.45"/><circle cx="593.5" cy="343.9" r="4.45"/><circle cx="389.8" cy="260.7" r="4.45"/><circle cx="278.2" cy="299.4" r="4.45"/><circle cx="449.7" cy="244.8" r="4.45"/><circle cx="478.0" cy="273.2" r="4.45"/></g><g fill="#440154"><circle cx="255.3" cy="259.8" r="4.45"/></g><g fill="#fde725"><circle cx="401.8" cy="260.7" r="4.45"/><circle cx="334.7" cy="297.1" r="4.45"/><circle cx="293.3" cy="199.9" r="4.45"/></g><g fill="#440154"><circle cx="471.3" cy="206.1" r="4.45"/></g><g fill="#fde725"><circle cx="377.6" cy="323.1" r="4.45"/></g>
<g fill="#fde725"><circle cx="277.7" cy="748.5" r="4.45"/><circle cx="528.7" cy="873.3" r="4.45"/></g><g fill="#440154"><circle cx="362.8" cy="963.3" r="4.45"/></g><g fill="#fde725"><circle cx="403.8" cy="917.6" r="4.45"/><circle cx="278.9" cy="1028.9" r="4.45"/><circle cx="458.7" cy="865.1" r="4.45"/><circle cx="529.3" cy="841.1" r="4.45"/><circle cx="428.1" cy="780.1" r="4.45"/><circle cx="576.2" cy="946.4" r="4.45"/><circle cx="164.8" cy="874.8" r="4.45"/><circle cx="436.6" cy="918.2" r="4.45"/><circle cx="356.1" cy="914.3" r="4.45"/><circle cx="66.9" cy="954.1" r="4.45"/></g><g fill="#440154"><circle cx="390.3" cy="941.3" r="4.45"/></g><g fill="#fde725"><circle cx="235.4" cy="891.3" r="4.45"/><circle cx="359.8" cy="770.7" r="4.45"/><circle cx="292.9" cy="671.7" r="4.45"/><circle cx="288.3" cy="887.9" r="4.45"/><circle cx="521.9" cy="932.8" r="4.45"/></g><g fill="#440154"><circle cx="445.0" cy="821.0" r="4.45"/></g><g fill="#fde725"><circle cx="264.9" cy="954.7" r="4.45"/><circle cx="439.5" cy="907.8" r="4.45"/><circle cx="318.7" cy="836.9" r="4.45"/><circle cx="468.0" cy="875.4" r="4.45"/><circle cx="260.3" cy="1011.7" r="4.45"/><circle cx="277.5" cy="923.9" r="4.45"/><circle cx="319.1" cy="965.3" r="4.45"/><circle cx="324.6" cy="908.2" r="4.45"/><circle cx="545.7" cy="925.9" r="4.45"/><circle cx="339.3" cy="867.8" r="4.45"/><circle cx="590.6" cy="994.5" r="4.45"/><circle cx="313.7" cy="865.2" r="4.45"/></g><g fill="#440154"><circle cx="367.5" cy="930.7" r="4.45"/><circle cx="318.5" cy="1017.1" r="4.45"/><circle cx="239.6" cy="762.1" r="4.45"/></g><g fill="#fde725"><circle cx="573.3" cy="928.5" r="4.45"/><circle cx="488.8" cy="915.9" r="4.45"/><circle cx="311.1" cy="891.7" r="4.45"/><circle cx="195.1" cy="956.5" r="4.45"/><circle cx="401.0" cy="897.0" r="4.45"/></g><g fill="#440154"><circle cx="485.7" cy="736.4" r="4.45"/></g><g fill="#fde725"><circle cx="330.7" cy="883.8" r="4.45"/><circle cx="370.4" cy="978.3" r="4.45"/><circle cx="426.6" cy="958.0" r="4.45"/><circle cx="322.8" cy="871.7" r="4.45"/><circle cx="349.6" cy="994.3" r="4.45"/><circle cx="350.6" cy="773.2" r="4.45"/><circle cx="600.8" cy="943.3" r="4.45"/><circle cx="221.3" cy="858.2" r="4.45"/><circle cx="185.7" cy="800.3" r="4.45"/><circle cx="275.3" cy="943.5" r="4.45"/><circle cx="425.8" cy="1001.4" r="4.45"/><circle cx="341.0" cy="890.4" r="4.45"/><circle cx="574.3" cy="896.5" r="4.45"/><circle cx="549.1" cy="825.1" r="4.45"/><circle cx="467.9" cy="911.0" r="4.45"/><circle cx="421.6" cy="836.0" r="4.45"/><circle cx="290.5" cy="893.5" r="4.45"/></g><g fill="#440154"><circle cx="305.2" cy="928.4" r="4.45"/></g><g fill="#fde725"><circle cx="394.6" cy="755.3" r="4.45"/><circle cx="454.1" cy="758.3" r="4.45"/><circle cx="351.8" cy="844.3" r="4.45"/></g><g fill="#440154"><circle cx="437.1" cy="956.1" r="4.45"/></g><g fill="#fde725"><circle cx="592.8" cy="1009.7" r="4.45"/><circle cx="378.9" cy="930.1" r="4.45"/><circle cx="375.4" cy="888.2" r="4.45"/><circle cx="334.1" cy="965.6" r="4.45"/><circle cx="291.2" cy="698.5" r="4.45"/><circle cx="371.5" cy="931.4" r="4.45"/><circle cx="177.6" cy="999.1" r="4.45"/><circle cx="407.8" cy="911.7" r="4.45"/><circle cx="374.6" cy="894.7" r="4.45"/><circle cx="467.3" cy="855.6" r="4.45"/><circle cx="354.8" cy="1048.9" r="4.45"/><circle cx="381.8" cy="917.7" r="4.45"/><circle cx="588.6" cy="971.0" r="4.45"/></g><g fill="#440154"><circle cx="227.4" cy="832.5" r="4.45"/></g><g fill="#fde725"><circle cx="384.9" cy="902.3" r="4.45"/><circle cx="353.3" cy="828.9" r="4.45"/><circle cx="379.9" cy="1003.0" r="4.45"/></g><g fill="#440154"><circle cx="526.8" cy="919.8" r="4.45"/></g><g fill="#fde725"><circle cx="365.4" cy="771.0" r="4.45"/><circle cx="409.1" cy="852.7" r="4.45"/><circle cx="376.4" cy="832.6" r="4.45"/><circle cx="611.0" cy="892.7" r="4.45"/></g><g fill="#440154"><circle cx="481.8" cy="852.2" r="4.45"/></g><g fill="#fde725"><circle cx="310.3" cy="1045.8" r="4.45"/><circle cx="209.9" cy="782.6" r="4.45"/><circle cx="348.6" cy="879.0" r="4.45"/><circle cx="255.4" cy="836.7" r="4.45"/><circle cx="490.1" cy="985.5" r="4.45"/><circle cx="432.9" cy="869.6" r="4.45"/><circle cx="287.9" cy="965.8" r="4.45"/><circle cx="374.1" cy="876.7" r="4.45"/><circle cx="103.9" cy="913.2" r="4.45"/><circle cx="362.5" cy="852.5" r="4.45"/><circle cx="279.6" cy="762.5" r="4.45"/><circle cx="324.6" cy="892.3" r="4.45"/></g><g fill="#440154"><circle cx="279.4" cy="927.1" r="4.45"/></g><g fill="#fde725"><circle cx="124.6" cy="968.9" r="4.45"/><circle cx="308.7" cy="723.6" r="4.45"/><circle cx="492.5" cy="891.0" r="4.45"/><circle cx="291.2" cy="745.9" r="4.45"/></g><g fill="#440154"><circle cx="325.9" cy="811.3" r="4.45"/></g><g fill="#fde725"><circle cx="313.6" cy="797.0" r="4.45"/><circle cx="422.3" cy="821.3" r="4.45"/><circle cx="367.0" cy="914.8" r="4.45"/></g><g fill="#440154"><circle cx="449.9" cy="958.2" r="4.45"/></g><g fill="#fde725"><circle cx="291.2" cy="812.8" r="4.45"/></g><g fill="#440154"><circle cx="413.5" cy="949.2" r="4.45"/></g><g fill="#fde725"><circle cx="119.7" cy="819.4" r="4.45"/><circle cx="254.9" cy="857.2" r="4.45"/><circle cx="406.4" cy="940.2" r="4.45"/><circle cx="512.7" cy="832.8" r="4.45"/><circle cx="474.6" cy="905.5" r="4.45"/></g><g fill="#440154"><circle cx="198.4" cy="909.0" r="4.45"/></g><g fill="#fde725"><circle cx="471.3" cy="914.8" r="4.45"/><circle cx="529.0" cy="923.0" r="4.45"/><circle cx="151.0" cy="812.3" r="4.45"/><circle cx="549.9" cy="869.5" r="4.45"/><circle cx="440.6" cy="827.8" r="4.45"/><circle cx="343.3" cy="799.9" r="4.45"/><circle cx="243.7" cy="823.0" r="4.45"/><circle cx="283.9" cy="912.9" r="4.45"/><circle cx="513.9" cy="845.3" r="4.45"/><circle cx="499.5" cy="967.4" r="4.45"/><circle cx="357.6" cy="997.3" r="4.45"/><circle cx="410.5" cy="858.5" r="4.45"/><circle cx="343.6" cy="911.0" r="4.45"/><circle cx="302.2" cy="746.6" r="4.45"/><circle cx="421.3" cy="895.9" r="4.45"/><circle cx="219.0" cy="876.1" r="4.45"/><circle cx="213.5" cy="865.7" r="4.45"/><circle cx="160.7" cy="804.2" r="4.45"/><circle cx="450.5" cy="831.0" r="4.45"/><circle cx="355.7" cy="891.5" r="4.45"/><circle cx="410.1" cy="939.1" r="4.45"/><circle cx="429.3" cy="973.3" r="4.45"/><circle cx="372.9" cy="933.5" r="4.45"/><circle cx="386.1" cy="859.1" r="4.45"/><circle cx="483.7" cy="981.9" r="4.45"/></g><g fill="#440154"><circle cx="392.4" cy="934.2" r="4.45"/></g><g fill="#fde725"><circle cx="304.8" cy="858.5" r="4.45"/><circle cx="444.7" cy="877.7" r="4.45"/><circle cx="453.0" cy="1016.2" r="4.45"/><circle cx="495.2" cy="862.5" r="4.45"/></g><g fill="#440154"><circle cx="373.7" cy="989.1" r="4.45"/></g><g fill="#fde725"><circle cx="511.6" cy="891.8" r="4.45"/><circle cx="196.3" cy="866.8" r="4.45"/><circle cx="375.3" cy="894.2" r="4.45"/><circle cx="489.5" cy="920.6" r="4.45"/><circle cx="385.4" cy="1018.6" r="4.45"/><circle cx="285.4" cy="859.0" r="4.45"/><circle cx="196.9" cy="873.3" r="4.45"/><circle cx="564.9" cy="983.7" r="4.45"/><circle cx="448.5" cy="775.0" r="4.45"/><circle cx="483.4" cy="935.7" r="4.45"/><circle cx="377.4" cy="825.5" r="4.45"/><circle cx="241.5" cy="891.6" r="4.45"/><circle cx="295.2" cy="735.7" r="4.45"/><circle cx="402.7" cy="829.9" r="4.45"/><circle cx="423.7" cy="892.1" r="4.45"/></g><g fill="#440154"><circle cx="363.0" cy="802.0" r="4.45"/></g><g fill="#fde725"><circle cx="565.0" cy="963.9" r="4.45"/><circle cx="353.1" cy="818.1" r="4.45"/><circle cx="228.3" cy="905.1" r="4.45"/><circle cx="373.2" cy="886.2" r="4.45"/><circle cx="460.3" cy="904.9" r="4.45"/><circle cx="456.2" cy="787.5" r="4.45"/><circle cx="296.4" cy="782.7" r="4.45"/><circle cx="387.5" cy="736.6" r="4.45"/><circle cx="398.2" cy="840.8" r="4.45"/><circle cx="336.0" cy="867.8" r="4.45"/><circle cx="428.0" cy="820.2" r="4.45"/><circle cx="216.6" cy="824.3" r="4.45"/><circle cx="508.9" cy="1002.4" r="4.45"/></g><g fill="#440154"><circle cx="437.1" cy="915.2" r="4.45"/></g><g fill="#fde725"><circle cx="507.5" cy="944.4" r="4.45"/><circle cx="292.6" cy="900.5" r="4.45"/><circle cx="359.3" cy="859.6" r="4.45"/><circle cx="295.7" cy="813.0" r="4.45"/><circle cx="346.3" cy="759.2" r="4.45"/><circle cx="444.3" cy="790.0" r="4.45"/><circle cx="521.2" cy="779.2" r="4.45"/><circle cx="207.8" cy="784.6" r="4.45"/><circle cx="285.8" cy="772.5" r="4.45"/><circle cx="354.4" cy="803.6" r="4.45"/><circle cx="477.3" cy="909.6" r="4.45"/><circle cx="287.2" cy="915.6" r="4.45"/><circle cx="471.9" cy="808.7" r="4.45"/><circle cx="345.6" cy="849.0" r="4.45"/><circle cx="318.3" cy="926.8" r="4.45"/><circle cx="240.9" cy="969.4" r="4.45"/><circle cx="417.7" cy="933.2" r="4.45"/></g><g fill="#440154"><circle cx="475.9" cy="893.0" r="4.45"/></g><g fill="#fde725"><circle cx="290.7" cy="859.7" r="4.45"/><circle cx="335.4" cy="784.1" r="4.45"/><circle cx="370.6" cy="902.0" r="4.45"/><circle cx="469.1" cy="888.6" r="4.45"/><circle cx="312.9" cy="865.9" r="4.45"/><circle cx="455.9" cy="752.6" r="4.45"/><circle cx="337.5" cy="939.3" r="4.45"/><circle cx="300.6" cy="916.9" r="4.45"/><circle cx="343.3" cy="920.2" r="4.45"/></g><g fill="#440154"><circle cx="391.9" cy="780.7" r="4.45"/></g><g fill="#fde725"><circle cx="501.1" cy="829.1" r="4.45"/><circle cx="451.5" cy="879.7" r="4.45"/><circle cx="515.9" cy="892.1" r="4.45"/><circle cx="290.3" cy="1052.4" r="4.45"/><circle cx="448.4" cy="883.9" r="4.45"/><circle cx="387.4" cy="899.7" r="4.45"/></g><g fill="#440154"><circle cx="374.4" cy="811.8" r="4.45"/></g><g fill="#fde725"><circle cx="506.0" cy="960.0" r="4.45"/><circle cx="575.7" cy="931.8" r="4.45"/><circle cx="484.2" cy="1020.6" r="4.45"/><circle cx="356.3" cy="904.9" r="4.45"/><circle cx="547.7" cy="1055.1" r="4.45"/></g><g fill="#440154"><circle cx="280.7" cy="804.0" r="4.45"/></g><g fill="#fde725"><circle cx="457.7" cy="863.7" r="4.45"/><circle cx="209.6" cy="831.6" r="4.45"/><circle cx="457.3" cy="832.6" r="4.45"/><circle cx="334.7" cy="895.5" r="4.45"/><circle cx="416.9" cy="929.7" r="4.45"/><circle cx="514.1" cy="735.2" r="4.45"/><circle cx="288.9" cy="904.5" r="4.45"/><circle cx="367.9" cy="895.7" r="4.45"/><circle cx="379.3" cy="791.1" r="4.45"/></g><g fill="#440154"><circle cx="216.3" cy="873.3" r="4.45"/></g><g fill="#fde725"><circle cx="348.3" cy="813.5" r="4.45"/><circle cx="275.6" cy="902.5" r="4.45"/><circle cx="330.2" cy="1043.7" r="4.45"/><circle cx="303.1" cy="954.4" r="4.45"/><circle cx="434.5" cy="855.5" r="4.45"/><circle cx="366.8" cy="975.7" r="4.45"/><circle cx="494.7" cy="978.6" r="4.45"/><circle cx="399.0" cy="998.4" r="4.45"/><circle cx="182.5" cy="977.4" r="4.45"/><circle cx="228.3" cy="870.0" r="4.45"/><circle cx="465.9" cy="1016.4" r="4.45"/></g><g fill="#440154"><circle cx="244.1" cy="981.5" r="4.45"/></g><g fill="#fde725"><circle cx="360.6" cy="876.5" r="4.45"/><circle cx="369.6" cy="947.2" r="4.45"/><circle cx="268.8" cy="814.0" r="4.45"/><circle cx="268.6" cy="925.8" r="4.45"/><circle cx="398.4" cy="898.4" r="4.45"/><circle cx="317.6" cy="864.8" r="4.45"/><circle cx="318.2" cy="738.7" r="4.45"/><circle cx="473.9" cy="857.3" r="4.45"/><circle cx="310.7" cy="915.2" r="4.45"/><circle cx="479.9" cy="925.1" r="4.45"/><circle cx="313.7" cy="810.2" r="4.45"/><circle cx="379.1" cy="906.7" r="4.45"/><circle cx="340.1" cy="990.5" r="4.45"/><circle cx="578.7" cy="823.8" r="4.45"/><circle cx="355.3" cy="818.5" r="4.45"/><circle cx="275.1" cy="919.1" r="4.45"/><circle cx="242.6" cy="747.1" r="4.45"/><circle cx="474.5" cy="846.8" r="4.45"/><circle cx="655.0" cy="918.4" r="4.45"/><circle cx="309.3" cy="855.1" r="4.45"/></g><g fill="#440154"><circle cx="354.6" cy="887.9" r="4.45"/><circle cx="212.8" cy="776.3" r="4.45"/></g><g fill="#fde725"><circle cx="435.3" cy="767.0" r="4.45"/><circle cx="379.8" cy="780.8" r="4.45"/><circle cx="530.6" cy="856.6" r="4.45"/><circle cx="361.6" cy="783.0" r="4.45"/><circle cx="326.7" cy="894.2" r="4.45"/><circle cx="252.4" cy="781.8" r="4.45"/><circle cx="570.2" cy="814.3" r="4.45"/><circle cx="338.4" cy="843.4" r="4.45"/><circle cx="348.8" cy="864.9" r="4.45"/><circle cx="405.0" cy="887.5" r="4.45"/><circle cx="352.0" cy="865.9" r="4.45"/><circle cx="209.3" cy="830.4" r="4.45"/></g><g fill="#440154"><circle cx="216.9" cy="892.5" r="4.45"/></g><g fill="#fde725"><circle cx="374.0" cy="972.4" r="4.45"/><circle cx="395.8" cy="923.9" r="4.45"/><circle cx="214.5" cy="866.1" r="4.45"/><circle cx="374.1" cy="974.2" r="4.45"/><circle cx="546.0" cy="878.3" r="4.45"/><circle cx="310.8" cy="791.6" r="4.45"/><circle cx="392.4" cy="1035.8" r="4.45"/><circle cx="215.3" cy="988.4" r="4.45"/><circle cx="229.0" cy="889.6" r="4.45"/><circle cx="441.7" cy="816.2" r="4.45"/><circle cx="374.5" cy="980.8" r="4.45"/><circle cx="382.2" cy="929.4" r="4.45"/><circle cx="453.1" cy="819.1" r="4.45"/><circle cx="218.2" cy="906.0" r="4.45"/><circle cx="268.7" cy="997.1" r="4.45"/><circle cx="236.3" cy="905.4" r="4.45"/><circle cx="376.3" cy="772.6" r="4.45"/><circle cx="366.9" cy="933.9" r="4.45"/><circle cx="397.0" cy="863.9" r="4.45"/></g><g fill="#440154"><circle cx="382.1" cy="911.9" r="4.45"/></g><g fill="#fde725"><circle cx="394.5" cy="946.1" r="4.45"/><circle cx="343.8" cy="873.1" r="4.45"/><circle cx="292.8" cy="792.1" r="4.45"/><circle cx="454.7" cy="886.2" r="4.45"/><circle cx="416.0" cy="953.5" r="4.45"/><circle cx="356.4" cy="863.7" r="4.45"/><circle cx="358.8" cy="796.1" r="4.45"/></g><g fill="#440154"><circle cx="229.2" cy="860.8" r="4.45"/></g><g fill="#fde725"><circle cx="181.9" cy="893.0" r="4.45"/><circle cx="203.5" cy="892.9" r="4.45"/><circle cx="348.7" cy="944.9" r="4.45"/><circle cx="483.6" cy="879.9" r="4.45"/><circle cx="552.3" cy="813.5" r="4.45"/><circle cx="299.9" cy="836.4" r="4.45"/><circle cx="241.0" cy="898.2" r="4.45"/><circle cx="488.3" cy="941.4" r="4.45"/><circle cx="490.8" cy="907.1" r="4.45"/><circle cx="382.6" cy="851.7" r="4.45"/><circle cx="438.9" cy="889.3" r="4.45"/><circle cx="276.2" cy="873.2" r="4.45"/><circle cx="316.9" cy="798.9" r="4.45"/><circle cx="454.6" cy="873.3" r="4.45"/><circle cx="322.4" cy="837.3" r="4.45"/><circle cx="393.6" cy="770.6" r="4.45"/><circle cx="394.9" cy="870.1" r="4.45"/><circle cx="441.5" cy="872.0" r="4.45"/><circle cx="492.7" cy="726.7" r="4.45"/><circle cx="433.8" cy="917.9" r="4.45"/><circle cx="339.5" cy="839.9" r="4.45"/><circle cx="551.6" cy="819.9" r="4.45"/></g><g fill="#440154"><circle cx="203.2" cy="836.9" r="4.45"/></g><g fill="#fde725"><circle cx="609.5" cy="902.4" r="4.45"/><circle cx="396.0" cy="823.8" r="4.45"/><circle cx="418.5" cy="858.9" r="4.45"/><circle cx="174.0" cy="984.2" r="4.45"/><circle cx="381.9" cy="763.7" r="4.45"/><circle cx="375.6" cy="853.9" r="4.45"/><circle cx="502.1" cy="884.2" r="4.45"/></g><g fill="#440154"><circle cx="485.4" cy="832.7" r="4.45"/></g><g fill="#fde725"><circle cx="401.9" cy="820.1" r="4.45"/><circle cx="327.5" cy="989.6" r="4.45"/><circle cx="359.0" cy="915.8" r="4.45"/><circle cx="495.0" cy="852.8" r="4.45"/><circle cx="318.5" cy="801.5" r="4.45"/><circle cx="352.3" cy="927.9" r="4.45"/><circle cx="301.3" cy="907.9" r="4.45"/><circle cx="436.6" cy="1010.8" r="4.45"/><circle cx="262.8" cy="794.8" r="4.45"/><circle cx="386.8" cy="874.9" r="4.45"/><circle cx="218.6" cy="926.3" r="4.45"/><circle cx="368.1" cy="1011.8" r="4.45"/><circle cx="281.2" cy="880.1" r="4.45"/><circle cx="440.9" cy="748.2" r="4.45"/></g><g fill="#440154"><circle cx="550.8" cy="949.0" r="4.45"/></g><g fill="#fde725"><circle cx="375.2" cy="895.1" r="4.45"/></g><g fill="#440154"><circle cx="318.1" cy="859.5" r="4.45"/></g><g fill="#fde725"><circle cx="256.0" cy="927.4" r="4.45"/><circle cx="441.9" cy="867.6" r="4.45"/><circle cx="243.9" cy="904.9" r="4.45"/><circle cx="359.3" cy="919.8" r="4.45"/><circle cx="399.5" cy="797.6" r="4.45"/><circle cx="359.2" cy="935.1" r="4.45"/><circle cx="386.3" cy="734.8" r="4.45"/><circle cx="296.6" cy="903.4" r="4.45"/><circle cx="329.3" cy="867.7" r="4.45"/><circle cx="266.4" cy="886.2" r="4.45"/><circle cx="335.6" cy="850.6" r="4.45"/><circle cx="364.7" cy="870.5" r="4.45"/><circle cx="376.2" cy="789.4" r="4.45"/><circle cx="382.9" cy="775.7" r="4.45"/><circle cx="311.9" cy="881.1" r="4.45"/><circle cx="378.3" cy="852.3" r="4.45"/><circle cx="470.0" cy="917.6" r="4.45"/><circle cx="251.3" cy="911.6" r="4.45"/><circle cx="459.3" cy="822.3" r="4.45"/><circle cx="459.7" cy="864.8" r="4.45"/><circle cx="222.3" cy="878.2" r="4.45"/><circle cx="396.9" cy="945.3" r="4.45"/><circle cx="284.4" cy="782.1" r="4.45"/><circle cx="432.5" cy="824.9" r="4.45"/><circle cx="410.9" cy="825.6" r="4.45"/><circle cx="581.7" cy="830.7" r="4.45"/><circle cx="374.5" cy="822.6" r="4.45"/><circle cx="451.6" cy="886.1" r="4.45"/><circle cx="406.9" cy="952.2" r="4.45"/><circle cx="320.8" cy="882.5" r="4.45"/><circle cx="281.3" cy="908.7" r="4.45"/><circle cx="340.6" cy="883.7" r="4.45"/><circle cx="332.3" cy="858.2" r="4.45"/><circle cx="357.2" cy="856.6" r="4.45"/><circle cx="297.9" cy="875.0" r="4.45"/><circle cx="424.7" cy="764.1" r="4.45"/><circle cx="460.6" cy="817.4" r="4.45"/><circle cx="400.3" cy="902.6" r="4.45"/><circle cx="343.1" cy="829.6" r="4.45"/><circle cx="210.0" cy="815.2" r="4.45"/><circle cx="260.6" cy="789.3" r="4.45"/><circle cx="522.2" cy="848.2" r="4.45"/><circle cx="251.0" cy="897.1" r="4.45"/><circle cx="494.4" cy="747.1" r="4.45"/><circle cx="428.1" cy="971.6" r="4.45"/><circle cx="314.3" cy="956.3" r="4.45"/><circle cx="516.8" cy="802.2" r="4.45"/><circle cx="323.9" cy="926.9" r="4.45"/></g><g fill="#440154"><circle cx="347.9" cy="861.8" r="4.45"/></g><g fill="#fde725"><circle cx="203.5" cy="947.8" r="4.45"/><circle cx="247.4" cy="845.5" r="4.45"/><circle cx="406.9" cy="855.4" r="4.45"/></g><g fill="#440154"><circle cx="443.2" cy="980.9" r="4.45"/></g><g fill="#fde725"><circle cx="513.0" cy="881.7" r="4.45"/><circle cx="364.0" cy="818.1" r="4.45"/><circle cx="458.9" cy="760.2" r="4.45"/><circle cx="598.7" cy="871.5" r="4.45"/><circle cx="252.9" cy="802.7" r="4.45"/><circle cx="368.9" cy="930.7" r="4.45"/><circle cx="441.7" cy="885.6" r="4.45"/><circle cx="436.3" cy="871.2" r="4.45"/><circle cx="285.2" cy="981.0" r="4.45"/><circle cx="499.7" cy="863.4" r="4.45"/></g><g fill="#440154"><circle cx="498.2" cy="880.3" r="4.45"/></g><g fill="#fde725"><circle cx="364.9" cy="804.6" r="4.45"/><circle cx="394.0" cy="890.3" r="4.45"/><circle cx="265.3" cy="873.6" r="4.45"/><circle cx="377.5" cy="811.3" r="4.45"/><circle cx="325.6" cy="842.4" r="4.45"/><circle cx="429.5" cy="909.3" r="4.45"/><circle cx="422.1" cy="908.5" r="4.45"/></g><g fill="#440154"><circle cx="414.0" cy="971.1" r="4.45"/></g><g fill="#fde725"><circle cx="284.3" cy="934.0" r="4.45"/><circle cx="472.7" cy="892.7" r="4.45"/><circle cx="372.6" cy="758.9" r="4.45"/></g><g fill="#440154"><circle cx="371.6" cy="763.2" r="4.45"/></g><g fill="#fde725"><circle cx="330.2" cy="915.1" r="4.45"/><circle cx="254.7" cy="945.1" r="4.45"/><circle cx="156.0" cy="876.4" r="4.45"/><circle cx="427.9" cy="1002.8" r="4.45"/><circle cx="383.6" cy="864.7" r="4.45"/><circle cx="342.1" cy="963.4" r="4.45"/><circle cx="300.4" cy="1012.8" r="4.45"/><circle cx="483.5" cy="798.5" r="4.45"/><circle cx="391.9" cy="806.2" r="4.45"/><circle cx="259.7" cy="876.7" r="4.45"/><circle cx="428.9" cy="855.5" r="4.45"/><circle cx="494.3" cy="815.3" r="4.45"/><circle cx="374.6" cy="955.3" r="4.45"/><circle cx="463.0" cy="849.7" r="4.45"/><circle cx="315.7" cy="890.8" r="4.45"/><circle cx="404.3" cy="889.2" r="4.45"/><circle cx="335.5" cy="912.6" r="4.45"/><circle cx="392.0" cy="975.9" r="4.45"/><circle cx="572.7" cy="851.7" r="4.45"/><circle cx="536.4" cy="810.7" r="4.45"/><circle cx="457.5" cy="931.8" r="4.45"/><circle cx="83.0" cy="792.2" r="4.45"/></g><g fill="#440154"><circle cx="324.4" cy="958.8" r="4.45"/></g><g fill="#fde725"><circle cx="337.8" cy="766.1" r="4.45"/><circle cx="366.7" cy="845.4" r="4.45"/><circle cx="325.4" cy="788.4" r="4.45"/></g><g fill="#440154"><circle cx="510.3" cy="855.4" r="4.45"/></g><g fill="#fde725"><circle cx="290.9" cy="981.7" r="4.45"/><circle cx="233.7" cy="845.8" r="4.45"/><circle cx="282.8" cy="873.4" r="4.45"/><circle cx="420.5" cy="808.2" r="4.45"/><circle cx="175.1" cy="881.8" r="4.45"/><circle cx="342.2" cy="856.2" r="4.45"/><circle cx="204.2" cy="767.3" r="4.45"/><circle cx="322.3" cy="894.8" r="4.45"/><circle cx="479.2" cy="943.7" r="4.45"/><circle cx="336.0" cy="698.5" r="4.45"/><circle cx="244.2" cy="874.1" r="4.45"/><circle cx="363.6" cy="903.3" r="4.45"/><circle cx="393.6" cy="894.7" r="4.45"/><circle cx="371.0" cy="838.9" r="4.45"/><circle cx="490.3" cy="776.7" r="4.45"/><circle cx="362.5" cy="955.7" r="4.45"/><circle cx="353.6" cy="865.7" r="4.45"/><circle cx="187.0" cy="829.8" r="4.45"/><circle cx="455.4" cy="942.4" r="4.45"/><circle cx="434.7" cy="847.0" r="4.45"/><circle cx="535.6" cy="904.1" r="4.45"/><circle cx="409.1" cy="806.0" r="4.45"/><circle cx="438.8" cy="881.8" r="4.45"/><circle cx="357.9" cy="828.9" r="4.45"/><circle cx="337.0" cy="1010.4" r="4.45"/><circle cx="244.6" cy="955.4" r="4.45"/><circle cx="301.8" cy="974.2" r="4.45"/><circle cx="505.4" cy="951.0" r="4.45"/><circle cx="431.1" cy="964.1" r="4.45"/><circle cx="301.0" cy="972.8" r="4.45"/><circle cx="263.5" cy="804.0" r="4.45"/><circle cx="414.9" cy="1015.2" r="4.45"/><circle cx="554.3" cy="712.1" r="4.45"/><circle cx="348.5" cy="931.2" r="4.45"/><circle cx="518.1" cy="916.0" r="4.45"/><circle cx="577.0" cy="890.6" r="4.45"/><circle cx="297.7" cy="733.6" r="4.45"/></g><g fill="#440154"><circle cx="373.8" cy="881.9" r="4.45"/></g><g fill="#fde725"><circle cx="390.1" cy="945.2" r="4.45"/><circle cx="348.9" cy="831.3" r="4.45"/><circle cx="359.6" cy="822.2" r="4.45"/><circle cx="300.8" cy="845.8" r="4.45"/><circle cx="291.5" cy="875.8" r="4.45"/><circle cx="313.8" cy="932.5" r="4.45"/><circle cx="422.8" cy="918.6" r="4.45"/><circle cx="395.8" cy="936.1" r="4.45"/><circle cx="400.8" cy="804.7" r="4.45"/><circle cx="467.4" cy="796.7" r="4.45"/><circle cx="448.5" cy="859.2" r="4.45"/><circle cx="194.3" cy="902.4" r="4.45"/><circle cx="466.1" cy="796.1" r="4.45"/></g><g fill="#440154"><circle cx="294.8" cy="988.4" r="4.45"/></g><g fill="#fde725"><circle cx="327.3" cy="829.5" r="4.45"/><circle cx="401.0" cy="978.6" r="4.45"/></g><g fill="#440154"><circle cx="299.0" cy="864.4" r="4.45"/></g><g fill="#fde725"><circle cx="451.2" cy="938.5" r="4.45"/></g><g fill="#440154"><circle cx="300.0" cy="866.6" r="4.45"/></g><g fill="#fde725"><circle cx="338.1" cy="948.5" r="4.45"/></g><g fill="#440154"><circle cx="509.7" cy="909.8" r="4.45"/></g><g fill="#fde725"><circle cx="422.2" cy="836.2" r="4.45"/><circle cx="577.3" cy="791.1" r="4.45"/><circle cx="429.1" cy="954.2" r="4.45"/><circle cx="255.8" cy="863.9" r="4.45"/><circle cx="580.8" cy="854.8" r="4.45"/></g><g fill="#440154"><circle cx="590.9" cy="929.7" r="4.45"/></g><g fill="#fde725"><circle cx="347.4" cy="799.5" r="4.45"/><circle cx="366.1" cy="881.3" r="4.45"/><circle cx="381.2" cy="844.4" r="4.45"/><circle cx="331.5" cy="840.7" r="4.45"/><circle cx="504.0" cy="775.2" r="4.45"/></g><g fill="#440154"><circle cx="479.3" cy="909.3" r="4.45"/></g><g fill="#fde725"><circle cx="450.7" cy="920.6" r="4.45"/><circle cx="338.7" cy="823.0" r="4.45"/></g><g fill="#440154"><circle cx="383.4" cy="799.9" r="4.45"/></g><g fill="#fde725"><circle cx="228.8" cy="685.3" r="4.45"/><circle cx="306.6" cy="996.8" r="4.45"/></g><g fill="#440154"><circle cx="328.1" cy="887.4" r="4.45"/></g><g fill="#fde725"><circle cx="283.0" cy="806.4" r="4.45"/><circle cx="404.0" cy="890.7" r="4.45"/><circle cx="408.3" cy="970.2" r="4.45"/><circle cx="616.5" cy="930.9" r="4.45"/><circle cx="390.8" cy="744.4" r="4.45"/><circle cx="439.0" cy="929.9" r="4.45"/><circle cx="455.8" cy="894.1" r="4.45"/><circle cx="560.3" cy="867.7" r="4.45"/><circle cx="383.1" cy="882.4" r="4.45"/><circle cx="353.4" cy="927.3" r="4.45"/><circle cx="319.2" cy="719.9" r="4.45"/></g><g fill="#440154"><circle cx="388.6" cy="871.8" r="4.45"/></g><g fill="#fde725"><circle cx="437.9" cy="793.5" r="4.45"/><circle cx="301.8" cy="976.6" r="4.45"/><circle cx="364.3" cy="869.4" r="4.45"/><circle cx="500.3" cy="785.6" r="4.45"/><circle cx="317.5" cy="926.6" r="4.45"/><circle cx="168.7" cy="926.6" r="4.45"/><circle cx="322.1" cy="660.7" r="4.45"/><circle cx="399.7" cy="885.1" r="4.45"/><circle cx="360.0" cy="809.5" r="4.45"/><circle cx="381.1" cy="1002.2" r="4.45"/><circle cx="456.6" cy="984.5" r="4.45"/><circle cx="188.1" cy="868.6" r="4.45"/><circle cx="351.4" cy="745.6" r="4.45"/><circle cx="320.1" cy="823.2" r="4.45"/><circle cx="515.1" cy="903.2" r="4.45"/><circle cx="257.2" cy="937.1" r="4.45"/><circle cx="348.4" cy="836.2" r="4.45"/><circle cx="276.2" cy="792.3" r="4.45"/><circle cx="330.4" cy="859.1" r="4.45"/><circle cx="551.0" cy="917.2" r="4.45"/><circle cx="351.3" cy="774.0" r="4.45"/><circle cx="338.8" cy="815.8" r="4.45"/></g><g fill="#440154"><circle cx="518.1" cy="919.9" r="4.45"/></g><g fill="#fde725"><circle cx="544.2" cy="803.7" r="4.45"/><circle cx="341.9" cy="812.4" r="4.45"/></g><g fill="#440154"><circle cx="286.4" cy="891.8" r="4.45"/></g><g fill="#fde725"><circle cx="388.3" cy="914.0" r="4.45"/><circle cx="416.6" cy="897.7" r="4.45"/><circle cx="377.6" cy="889.9" r="4.45"/><circle cx="322.7" cy="842.4" r="4.45"/><circle cx="417.7" cy="854.1" r="4.45"/><circle cx="373.9" cy="837.6" r="4.45"/></g><g fill="#440154"><circle cx="542.9" cy="883.4" r="4.45"/></g><g fill="#fde725"><circle cx="287.0" cy="980.0" r="4.45"/><circle cx="373.5" cy="931.0" r="4.45"/><circle cx="436.8" cy="841.3" r="4.45"/><circle cx="349.4" cy="919.1" r="4.45"/><circle cx="351.5" cy="931.3" r="4.45"/><circle cx="420.5" cy="891.0" r="4.45"/><circle cx="587.2" cy="962.8" r="4.45"/><circle cx="468.1" cy="999.7" r="4.45"/><circle cx="437.3" cy="843.3" r="4.45"/><circle cx="349.8" cy="922.1" r="4.45"/><circle cx="275.0" cy="745.3" r="4.45"/></g><g fill="#440154"><circle cx="394.6" cy="870.1" r="4.45"/></g><g fill="#fde725"><circle cx="371.7" cy="805.4" r="4.45"/><circle cx="419.1" cy="734.6" r="4.45"/><circle cx="283.6" cy="874.7" r="4.45"/></g><g fill="#440154"><circle cx="487.5" cy="826.6" r="4.45"/></g><g fill="#fde725"><circle cx="425.5" cy="913.5" r="4.45"/><circle cx="401.1" cy="869.2" r="4.45"/><circle cx="392.5" cy="788.4" r="4.45"/><circle cx="537.8" cy="758.0" r="4.45"/><circle cx="244.6" cy="922.7" r="4.45"/><circle cx="365.4" cy="881.2" r="4.45"/><circle cx="362.2" cy="955.4" r="4.45"/><circle cx="330.6" cy="769.8" r="4.45"/></g><g fill="#440154"><circle cx="332.4" cy="761.2" r="4.45"/><circle cx="239.5" cy="963.6" r="4.45"/></g><g fill="#fde725"><circle cx="237.2" cy="886.5" r="4.45"/><circle cx="321.7" cy="982.3" r="4.45"/><circle cx="312.0" cy="852.2" r="4.45"/><circle cx="354.4" cy="924.4" r="4.45"/><circle cx="443.3" cy="930.3" r="4.45"/><circle cx="346.6" cy="898.5" r="4.45"/><circle cx="352.1" cy="984.1" r="4.45"/><circle cx="238.6" cy="773.7" r="4.45"/><circle cx="422.7" cy="991.8" r="4.45"/></g><g fill="#440154"><circle cx="486.4" cy="836.1" r="4.45"/></g><g fill="#fde725"><circle cx="297.6" cy="885.9" r="4.45"/><circle cx="369.8" cy="928.1" r="4.45"/><circle cx="428.5" cy="883.6" r="4.45"/><circle cx="379.8" cy="868.7" r="4.45"/></g><g fill="#440154"><circle cx="376.7" cy="894.1" r="4.45"/></g><g fill="#fde725"><circle cx="262.7" cy="781.9" r="4.45"/><circle cx="409.9" cy="853.2" r="4.45"/><circle cx="423.5" cy="847.3" r="4.45"/><circle cx="424.3" cy="786.6" r="4.45"/><circle cx="447.5" cy="926.5" r="4.45"/><circle cx="206.5" cy="944.4" r="4.45"/><circle cx="292.5" cy="716.5" r="4.45"/><circle cx="169.0" cy="924.2" r="4.45"/><circle cx="309.2" cy="954.9" r="4.45"/><circle cx="274.5" cy="813.4" r="4.45"/><circle cx="486.9" cy="759.6" r="4.45"/><circle cx="370.8" cy="900.3" r="4.45"/><circle cx="433.1" cy="1021.3" r="4.45"/><circle cx="404.1" cy="747.4" r="4.45"/><circle cx="428.7" cy="796.2" r="4.45"/><circle cx="350.7" cy="861.0" r="4.45"/><circle cx="414.5" cy="853.4" r="4.45"/><circle cx="259.1" cy="821.4" r="4.45"/><circle cx="344.7" cy="870.7" r="4.45"/><circle cx="306.0" cy="859.0" r="4.45"/><circle cx="547.3" cy="793.7" r="4.45"/></g><g fill="#440154"><circle cx="425.3" cy="946.1" r="4.45"/></g><g fill="#fde725"><circle cx="288.0" cy="808.3" r="4.45"/><circle cx="357.1" cy="905.0" r="4.45"/><circle cx="295.6" cy="965.4" r="4.45"/><circle cx="424.5" cy="831.1" r="4.45"/><circle cx="592.0" cy="747.1" r="4.45"/><circle cx="378.0" cy="855.2" r="4.45"/><circle cx="456.7" cy="984.2" r="4.45"/><circle cx="328.8" cy="885.2" r="4.45"/><circle cx="429.2" cy="888.2" r="4.45"/><circle cx="546.4" cy="1002.7" r="4.45"/><circle cx="425.0" cy="911.6" r="4.45"/><circle cx="351.0" cy="780.6" r="4.45"/><circle cx="437.5" cy="828.6" r="4.45"/><circle cx="370.2" cy="968.5" r="4.45"/><circle cx="289.3" cy="895.4" r="4.45"/></g><g fill="#440154"><circle cx="451.9" cy="992.6" r="4.45"/></g><g fill="#fde725"><circle cx="478.0" cy="821.8" r="4.45"/><circle cx="215.0" cy="889.1" r="4.45"/><circle cx="294.2" cy="805.8" r="4.45"/><circle cx="285.1" cy="869.5" r="4.45"/><circle cx="581.7" cy="937.0" r="4.45"/><circle cx="398.2" cy="926.2" r="4.45"/><circle cx="361.2" cy="803.7" r="4.45"/><circle cx="294.7" cy="885.2" r="4.45"/><circle cx="448.7" cy="764.1" r="4.45"/><circle cx="493.1" cy="918.1" r="4.45"/><circle cx="488.7" cy="1098.7" r="4.45"/><circle cx="566.8" cy="867.8" r="4.45"/></g><g fill="#440154"><circle cx="348.5" cy="791.8" r="4.45"/></g><g fill="#fde725"><circle cx="471.4" cy="827.0" r="4.45"/><circle cx="145.8" cy="850.3" r="4.45"/><circle cx="371.1" cy="881.2" r="4.45"/></g><g fill="#440154"><circle cx="460.4" cy="833.9" r="4.45"/></g><g fill="#fde725"><circle cx="209.9" cy="846.9" r="4.45"/><circle cx="393.1" cy="932.5" r="4.45"/><circle cx="241.0" cy="959.7" r="4.45"/></g><g fill="#440154"><circle cx="343.6" cy="1007.1" r="4.45"/><circle cx="481.6" cy="730.3" r="4.45"/></g><g fill="#fde725"><circle cx="533.7" cy="898.0" r="4.45"/><circle cx="521.1" cy="983.4" r="4.45"/><circle cx="329.5" cy="872.6" r="4.45"/><circle cx="331.7" cy="930.9" r="4.45"/><circle cx="305.9" cy="904.3" r="4.45"/><circle cx="507.1" cy="863.5" r="4.45"/><circle cx="439.3" cy="816.1" r="4.45"/><circle cx="416.2" cy="828.7" r="4.45"/><circle cx="499.9" cy="854.5" r="4.45"/><circle cx="465.0" cy="905.0" r="4.45"/><circle cx="162.2" cy="856.3" r="4.45"/><circle cx="304.8" cy="853.9" r="4.45"/><circle cx="593.5" cy="955.6" r="4.45"/><circle cx="389.8" cy="872.4" r="4.45"/><circle cx="278.2" cy="911.1" r="4.45"/><circle cx="449.7" cy="856.5" r="4.45"/><circle cx="478.0" cy="884.9" r="4.45"/></g><g fill="#440154"><circle cx="255.3" cy="871.5" r="4.45"/></g><g fill="#fde725"><circle cx="401.8" cy="872.4" r="4.45"/><circle cx="334.7" cy="908.8" r="4.45"/><circle cx="293.3" cy="811.6" r="4.45"/></g><g fill="#440154"><circle cx="471.3" cy="817.8" r="4.45"/></g><g fill="#fde725"><circle cx="377.6" cy="934.8" r="4.45"/></g><g fill="#440154"><circle cx="505.6" cy="935.5" r="4.45"/><circle cx="330.1" cy="848.6" r="4.45"/><circle cx="302.6" cy="907.0" r="4.45"/><circle cx="515.9" cy="918.5" r="4.45"/><circle cx="385.6" cy="936.7" r="4.45"/><circle cx="441.1" cy="977.0" r="4.45"/><circle cx="324.0" cy="962.8" r="4.45"/><circle cx="547.9" cy="948.1" r="4.45"/><circle cx="198.7" cy="908.6" r="4.45"/><circle cx="503.5" cy="856.3" r="4.45"/><circle cx="357.7" cy="974.8" r="4.45"/><circle cx="420.1" cy="959.7" r="4.45"/><circle cx="490.0" cy="859.5" r="4.45"/><circle cx="423.9" cy="945.0" r="4.45"/><circle cx="279.0" cy="986.3" r="4.45"/><circle cx="391.3" cy="937.3" r="4.45"/><circle cx="310.2" cy="870.3" r="4.45"/><circle cx="480.4" cy="906.2" r="4.45"/><circle cx="285.4" cy="845.9" r="4.45"/><circle cx="372.0" cy="782.1" r="4.45"/><circle cx="476.4" cy="920.2" r="4.45"/><circle cx="382.4" cy="810.8" r="4.45"/><circle cx="208.5" cy="855.5" r="4.45"/><circle cx="361.0" cy="905.3" r="4.45"/><circle cx="370.8" cy="985.9" r="4.45"/><circle cx="379.5" cy="854.7" r="4.45"/><circle cx="352.9" cy="890.5" r="4.45"/><circle cx="209.5" cy="841.0" r="4.45"/><circle cx="245.8" cy="855.2" r="4.45"/><circle cx="507.6" cy="855.1" r="4.45"/><circle cx="500.1" cy="846.1" r="4.45"/><circle cx="415.0" cy="974.7" r="4.45"/><circle cx="340.5" cy="942.4" r="4.45"/><circle cx="345.1" cy="972.6" r="4.45"/><circle cx="483.1" cy="878.8" r="4.45"/><circle cx="424.8" cy="914.3" r="4.45"/><circle cx="513.0" cy="894.5" r="4.45"/><circle cx="515.5" cy="940.8" r="4.45"/><circle cx="396.5" cy="977.9" r="4.45"/><circle cx="257.0" cy="983.3" r="4.45"/><circle cx="430.8" cy="878.4" r="4.45"/><circle cx="276.0" cy="915.9" r="4.45"/><circle cx="322.8" cy="973.9" r="4.45"/><circle cx="294.5" cy="947.2" r="4.45"/><circle cx="408.5" cy="789.9" r="4.45"/><circle cx="295.8" cy="871.4" r="4.45"/><circle cx="281.2" cy="884.2" r="4.45"/><circle cx="475.4" cy="982.3" r="4.45"/><circle cx="399.9" cy="797.0" r="4.45"/><circle cx="571.7" cy="938.9" r="4.45"/><circle cx="381.3" cy="871.4" r="4.45"/><circle cx="491.9" cy="837.7" r="4.45"/><circle cx="519.6" cy="891.7" r="4.45"/><circle cx="358.4" cy="856.3" r="4.45"/><circle cx="424.2" cy="947.0" r="4.45"/><circle cx="391.9" cy="870.9" r="4.45"/><circle cx="506.7" cy="805.0" r="4.45"/><circle cx="333.8" cy="955.5" r="4.45"/><circle cx="368.2" cy="911.7" r="4.45"/><circle cx="369.6" cy="905.5" r="4.45"/><circle cx="357.9" cy="974.4" r="4.45"/><circle cx="464.4" cy="916.6" r="4.45"/><circle cx="469.6" cy="896.1" r="4.45"/><circle cx="354.2" cy="878.3" r="4.45"/><circle cx="355.9" cy="874.5" r="4.45"/><circle cx="504.1" cy="892.0" r="4.45"/><circle cx="299.3" cy="864.4" r="4.45"/><circle cx="428.9" cy="949.1" r="4.45"/><circle cx="264.6" cy="823.5" r="4.45"/><circle cx="503.7" cy="900.1" r="4.45"/><circle cx="386.0" cy="885.1" r="4.45"/><circle cx="386.4" cy="908.8" r="4.45"/><circle cx="290.8" cy="896.0" r="4.45"/><circle cx="462.3" cy="861.9" r="4.45"/><circle cx="374.5" cy="807.0" r="4.45"/><circle cx="374.8" cy="975.1" r="4.45"/><circle cx="240.3" cy="966.7" r="4.45"/><circle cx="494.2" cy="840.7" r="4.45"/><circle cx="322.1" cy="981.4" r="4.45"/><circle cx="496.0" cy="920.9" r="4.45"/><circle cx="450.1" cy="749.3" r="4.45"/><circle cx="520.8" cy="896.6" r="4.45"/><circle cx="478.4" cy="910.7" r="4.45"/><circle cx="382.2" cy="905.6" r="4.45"/><circle cx="380.7" cy="802.1" r="4.45"/><circle cx="420.7" cy="976.0" r="4.45"/><circle cx="378.6" cy="969.4" r="4.45"/><circle cx="235.4" cy="922.8" r="4.45"/><circle cx="389.3" cy="805.0" r="4.45"/><circle cx="481.6" cy="852.4" r="4.45"/><circle cx="292.0" cy="919.1" r="4.45"/><circle cx="206.3" cy="838.9" r="4.45"/><circle cx="393.2" cy="846.6" r="4.45"/><circle cx="302.7" cy="954.3" r="4.45"/><circle cx="320.2" cy="816.1" r="4.45"/><circle cx="225.3" cy="880.4" r="4.45"/><circle cx="498.0" cy="916.0" r="4.45"/><circle cx="359.9" cy="937.6" r="4.45"/><circle cx="335.7" cy="867.1" r="4.45"/><circle cx="273.9" cy="910.2" r="4.45"/><circle cx="243.8" cy="863.8" r="4.45"/><circle cx="388.2" cy="815.7" r="4.45"/><circle cx="300.3" cy="864.5" r="4.45"/><circle cx="369.8" cy="853.9" r="4.45"/><circle cx="330.4" cy="980.3" r="4.45"/><circle cx="229.1" cy="767.7" r="4.45"/><circle cx="290.4" cy="886.3" r="4.45"/><circle cx="330.3" cy="820.8" r="4.45"/><circle cx="462.8" cy="836.9" r="4.45"/><circle cx="512.1" cy="918.8" r="4.45"/><circle cx="470.4" cy="740.0" r="4.45"/><circle cx="229.7" cy="834.0" r="4.45"/><circle cx="275.5" cy="920.0" r="4.45"/><circle cx="473.6" cy="908.2" r="4.45"/><circle cx="359.0" cy="841.7" r="4.45"/><circle cx="455.0" cy="752.8" r="4.45"/><circle cx="436.2" cy="946.3" r="4.45"/><circle cx="432.1" cy="878.0" r="4.45"/><circle cx="533.0" cy="890.7" r="4.45"/><circle cx="353.9" cy="787.8" r="4.45"/><circle cx="432.7" cy="926.8" r="4.45"/><circle cx="256.3" cy="983.2" r="4.45"/><circle cx="323.4" cy="895.8" r="4.45"/><circle cx="331.8" cy="963.4" r="4.45"/><circle cx="353.3" cy="877.1" r="4.45"/><circle cx="365.9" cy="813.3" r="4.45"/><circle cx="334.3" cy="818.4" r="4.45"/><circle cx="302.0" cy="981.2" r="4.45"/><circle cx="435.3" cy="818.2" r="4.45"/><circle cx="481.8" cy="827.9" r="4.45"/><circle cx="435.8" cy="954.7" r="4.45"/><circle cx="308.6" cy="861.9" r="4.45"/><circle cx="348.9" cy="936.1" r="4.45"/><circle cx="454.1" cy="838.4" r="4.45"/><circle cx="558.4" cy="899.8" r="4.45"/><circle cx="418.8" cy="879.2" r="4.45"/><circle cx="333.4" cy="762.5" r="4.45"/><circle cx="297.4" cy="985.8" r="4.45"/><circle cx="446.8" cy="839.8" r="4.45"/><circle cx="474.5" cy="938.3" r="4.45"/><circle cx="277.9" cy="783.8" r="4.45"/><circle cx="537.1" cy="936.8" r="4.45"/><circle cx="243.1" cy="934.3" r="4.45"/><circle cx="318.4" cy="853.5" r="4.45"/><circle cx="479.2" cy="825.5" r="4.45"/><circle cx="238.6" cy="771.6" r="4.45"/><circle cx="360.8" cy="852.7" r="4.45"/><circle cx="516.7" cy="921.1" r="4.45"/><circle cx="463.9" cy="918.9" r="4.45"/><circle cx="380.5" cy="900.9" r="4.45"/><circle cx="379.6" cy="903.7" r="4.45"/><circle cx="324.0" cy="821.9" r="4.45"/><circle cx="503.5" cy="849.2" r="4.45"/><circle cx="437.1" cy="933.7" r="4.45"/><circle cx="256.0" cy="884.5" r="4.45"/><circle cx="311.5" cy="870.4" r="4.45"/><circle cx="386.5" cy="888.2" r="4.45"/><circle cx="225.6" cy="769.6" r="4.45"/><circle cx="404.7" cy="885.3" r="4.45"/><circle cx="427.7" cy="948.1" r="4.45"/><circle cx="411.1" cy="802.5" r="4.45"/><circle cx="451.7" cy="821.9" r="4.45"/><circle cx="358.3" cy="973.4" r="4.45"/><circle cx="228.1" cy="873.1" r="4.45"/><circle cx="465.6" cy="819.9" r="4.45"/><circle cx="415.1" cy="845.6" r="4.45"/><circle cx="372.4" cy="974.9" r="4.45"/><circle cx="295.9" cy="963.0" r="4.45"/><circle cx="354.8" cy="836.0" r="4.45"/><circle cx="287.0" cy="824.6" r="4.45"/><circle cx="360.5" cy="801.1" r="4.45"/><circle cx="337.8" cy="887.5" r="4.45"/><circle cx="399.3" cy="928.8" r="4.45"/><circle cx="339.3" cy="915.6" r="4.45"/><circle cx="454.8" cy="882.6" r="4.45"/><circle cx="424.4" cy="969.5" r="4.45"/><circle cx="327.8" cy="889.2" r="4.45"/><circle cx="296.9" cy="938.3" r="4.45"/><circle cx="493.5" cy="860.2" r="4.45"/><circle cx="347.4" cy="822.4" r="4.45"/><circle cx="428.7" cy="946.1" r="4.45"/><circle cx="408.1" cy="932.5" r="4.45"/><circle cx="429.3" cy="953.9" r="4.45"/><circle cx="237.8" cy="779.7" r="4.45"/><circle cx="352.4" cy="787.9" r="4.45"/><circle cx="328.5" cy="882.4" r="4.45"/><circle cx="325.2" cy="860.3" r="4.45"/><circle cx="382.0" cy="836.2" r="4.45"/><circle cx="370.2" cy="924.1" r="4.45"/><circle cx="479.7" cy="902.1" r="4.45"/><circle cx="371.9" cy="891.3" r="4.45"/><circle cx="326.5" cy="778.0" r="4.45"/><circle cx="386.0" cy="814.1" r="4.45"/><circle cx="433.3" cy="925.1" r="4.45"/><circle cx="390.3" cy="790.0" r="4.45"/><circle cx="286.8" cy="910.4" r="4.45"/><circle cx="494.7" cy="939.0" r="4.45"/><circle cx="382.7" cy="832.5" r="4.45"/><circle cx="359.8" cy="970.2" r="4.45"/><circle cx="278.9" cy="887.9" r="4.45"/><circle cx="374.0" cy="882.2" r="4.45"/><circle cx="448.9" cy="915.8" r="4.45"/><circle cx="264.4" cy="879.3" r="4.45"/><circle cx="379.8" cy="944.7" r="4.45"/><circle cx="299.9" cy="868.3" r="4.45"/><circle cx="353.1" cy="843.6" r="4.45"/><circle cx="369.5" cy="909.0" r="4.45"/><circle cx="522.9" cy="904.6" r="4.45"/><circle cx="455.4" cy="946.8" r="4.45"/><circle cx="334.1" cy="872.6" r="4.45"/><circle cx="236.7" cy="789.7" r="4.45"/><circle cx="402.3" cy="962.4" r="4.45"/><circle cx="456.4" cy="916.6" r="4.45"/><circle cx="348.4" cy="801.2" r="4.45"/><circle cx="309.2" cy="791.2" r="4.45"/><circle cx="413.3" cy="933.0" r="4.45"/><circle cx="348.8" cy="773.4" r="4.45"/><circle cx="380.8" cy="801.9" r="4.45"/><circle cx="486.7" cy="842.8" r="4.45"/><circle cx="455.0" cy="920.6" r="4.45"/><circle cx="294.6" cy="785.7" r="4.45"/><circle cx="359.3" cy="811.0" r="4.45"/><circle cx="276.4" cy="868.9" r="4.45"/><circle cx="511.3" cy="911.7" r="4.45"/><circle cx="297.5" cy="790.8" r="4.45"/><circle cx="465.9" cy="827.8" r="4.45"/><circle cx="365.1" cy="772.2" r="4.45"/><circle cx="304.9" cy="807.9" r="4.45"/><circle cx="460.7" cy="966.7" r="4.45"/><circle cx="411.6" cy="842.7" r="4.45"/><circle cx="350.5" cy="844.1" r="4.45"/><circle cx="371.3" cy="912.5" r="4.45"/><circle cx="223.7" cy="853.6" r="4.45"/><circle cx="343.4" cy="831.9" r="4.45"/><circle cx="494.1" cy="839.8" r="4.45"/><circle cx="203.3" cy="904.6" r="4.45"/><circle cx="222.8" cy="859.0" r="4.45"/><circle cx="298.4" cy="925.0" r="4.45"/><circle cx="410.8" cy="906.0" r="4.45"/><circle cx="283.8" cy="872.1" r="4.45"/><circle cx="283.0" cy="940.3" r="4.45"/><circle cx="374.9" cy="794.8" r="4.45"/><circle cx="282.0" cy="925.2" r="4.45"/><circle cx="526.1" cy="927.0" r="4.45"/><circle cx="446.0" cy="883.7" r="4.45"/><circle cx="268.1" cy="913.3" r="4.45"/><circle cx="477.6" cy="740.8" r="4.45"/><circle cx="388.5" cy="872.1" r="4.45"/><circle cx="364.6" cy="814.9" r="4.45"/><circle cx="267.6" cy="785.7" r="4.45"/><circle cx="490.3" cy="836.1" r="4.45"/><circle cx="313.7" cy="853.8" r="4.45"/><circle cx="464.1" cy="848.0" r="4.45"/><circle cx="347.3" cy="998.6" r="4.45"/><circle cx="480.6" cy="840.3" r="4.45"/><circle cx="448.2" cy="828.6" r="4.45"/><circle cx="358.9" cy="889.3" r="4.45"/><circle cx="305.6" cy="927.7" r="4.45"/><circle cx="236.5" cy="792.0" r="4.45"/><circle cx="239.9" cy="963.6" r="4.45"/><circle cx="373.6" cy="907.3" r="4.45"/><circle cx="433.7" cy="764.2" r="4.45"/><circle cx="199.9" cy="907.6" r="4.45"/><circle cx="485.9" cy="836.5" r="4.45"/><circle cx="318.6" cy="1015.6" r="4.45"/><circle cx="269.0" cy="984.9" r="4.45"/><circle cx="413.3" cy="936.6" r="4.45"/><circle cx="453.2" cy="916.0" r="4.45"/><circle cx="311.1" cy="869.3" r="4.45"/><circle cx="222.6" cy="904.7" r="4.45"/><circle cx="362.0" cy="802.3" r="4.45"/><circle cx="500.1" cy="917.6" r="4.45"/><circle cx="388.2" cy="801.4" r="4.45"/><circle cx="378.6" cy="894.8" r="4.45"/><circle cx="372.4" cy="842.0" r="4.45"/><circle cx="398.7" cy="806.7" r="4.45"/><circle cx="352.4" cy="789.9" r="4.45"/><circle cx="343.2" cy="826.2" r="4.45"/><circle cx="449.8" cy="755.6" r="4.45"/><circle cx="370.9" cy="926.4" r="4.45"/><circle cx="449.0" cy="822.7" r="4.45"/><circle cx="421.6" cy="766.6" r="4.45"/><circle cx="312.6" cy="865.5" r="4.45"/><circle cx="345.9" cy="865.2" r="4.45"/><circle cx="234.2" cy="857.5" r="4.45"/><circle cx="322.2" cy="980.3" r="4.45"/><circle cx="429.8" cy="818.8" r="4.45"/><circle cx="223.1" cy="906.4" r="4.45"/><circle cx="338.3" cy="800.6" r="4.45"/><circle cx="445.8" cy="822.0" r="4.45"/><circle cx="419.7" cy="827.7" r="4.45"/><circle cx="477.2" cy="842.8" r="4.45"/><circle cx="251.9" cy="965.6" r="4.45"/><circle cx="498.1" cy="880.2" r="4.45"/><circle cx="237.1" cy="873.0" r="4.45"/><circle cx="431.7" cy="749.1" r="4.45"/><circle cx="273.2" cy="933.5" r="4.45"/><circle cx="496.7" cy="910.9" r="4.45"/><circle cx="514.1" cy="914.0" r="4.45"/><circle cx="288.6" cy="863.8" r="4.45"/><circle cx="368.7" cy="938.0" r="4.45"/><circle cx="276.6" cy="912.2" r="4.45"/><circle cx="391.8" cy="912.5" r="4.45"/><circle cx="394.5" cy="870.1" r="4.45"/><circle cx="380.5" cy="858.1" r="4.45"/><circle cx="274.8" cy="761.7" r="4.45"/><circle cx="282.1" cy="808.4" r="4.45"/><circle cx="413.1" cy="824.7" r="4.45"/><circle cx="485.5" cy="826.3" r="4.45"/><circle cx="458.6" cy="826.0" r="4.45"/><circle cx="372.2" cy="920.3" r="4.45"/><circle cx="440.8" cy="934.5" r="4.45"/><circle cx="403.0" cy="896.7" r="4.45"/><circle cx="201.6" cy="906.1" r="4.45"/><circle cx="374.4" cy="960.1" r="4.45"/><circle cx="501.1" cy="786.5" r="4.45"/><circle cx="463.3" cy="944.1" r="4.45"/><circle cx="298.0" cy="919.6" r="4.45"/><circle cx="393.6" cy="939.4" r="4.45"/><circle cx="477.0" cy="947.3" r="4.45"/><circle cx="421.2" cy="949.5" r="4.45"/><circle cx="260.7" cy="862.4" r="4.45"/><circle cx="278.5" cy="855.2" r="4.45"/><circle cx="365.5" cy="961.1" r="4.45"/><circle cx="439.6" cy="761.1" r="4.45"/><circle cx="344.3" cy="891.1" r="4.45"/><circle cx="315.2" cy="910.4" r="4.45"/><circle cx="399.6" cy="944.1" r="4.45"/><circle cx="380.7" cy="837.6" r="4.45"/><circle cx="413.1" cy="847.2" r="4.45"/><circle cx="413.5" cy="838.4" r="4.45"/><circle cx="385.5" cy="986.5" r="4.45"/><circle cx="391.1" cy="787.0" r="4.45"/><circle cx="399.5" cy="971.3" r="4.45"/><circle cx="363.2" cy="803.2" r="4.45"/><circle cx="504.8" cy="893.5" r="4.45"/><circle cx="378.5" cy="868.7" r="4.45"/><circle cx="228.4" cy="924.8" r="4.45"/><circle cx="333.9" cy="873.2" r="4.45"/><circle cx="310.4" cy="911.8" r="4.45"/><circle cx="304.6" cy="871.7" r="4.45"/><circle cx="473.4" cy="874.8" r="4.45"/><circle cx="391.1" cy="871.1" r="4.45"/><circle cx="436.8" cy="956.2" r="4.45"/><circle cx="459.3" cy="916.3" r="4.45"/><circle cx="450.2" cy="896.7" r="4.45"/><circle cx="314.8" cy="898.2" r="4.45"/><circle cx="534.6" cy="944.1" r="4.45"/><circle cx="492.1" cy="904.9" r="4.45"/><circle cx="325.6" cy="840.4" r="4.45"/><circle cx="462.6" cy="870.4" r="4.45"/><circle cx="289.0" cy="867.8" r="4.45"/><circle cx="395.3" cy="906.1" r="4.45"/><circle cx="286.9" cy="867.2" r="4.45"/><circle cx="380.0" cy="905.2" r="4.45"/><circle cx="292.6" cy="880.3" r="4.45"/><circle cx="400.6" cy="902.4" r="4.45"/><circle cx="234.3" cy="912.0" r="4.45"/><circle cx="513.6" cy="895.3" r="4.45"/><circle cx="282.1" cy="918.9" r="4.45"/><circle cx="278.3" cy="942.8" r="4.45"/><circle cx="504.6" cy="850.2" r="4.45"/><circle cx="477.4" cy="909.9" r="4.45"/><circle cx="275.2" cy="823.3" r="4.45"/><circle cx="379.7" cy="904.2" r="4.45"/><circle cx="475.5" cy="825.0" r="4.45"/><circle cx="511.2" cy="966.5" r="4.45"/><circle cx="435.1" cy="920.5" r="4.45"/><circle cx="325.1" cy="816.1" r="4.45"/><circle cx="464.6" cy="920.0" r="4.45"/><circle cx="329.1" cy="925.8" r="4.45"/><circle cx="338.9" cy="800.1" r="4.45"/><circle cx="390.3" cy="871.3" r="4.45"/><circle cx="221.8" cy="810.9" r="4.45"/><circle cx="336.5" cy="790.5" r="4.45"/><circle cx="380.8" cy="983.1" r="4.45"/><circle cx="337.5" cy="809.2" r="4.45"/><circle cx="474.6" cy="849.3" r="4.45"/><circle cx="421.9" cy="867.3" r="4.45"/><circle cx="281.8" cy="868.6" r="4.45"/><circle cx="512.0" cy="919.0" r="4.45"/><circle cx="368.7" cy="929.2" r="4.45"/><circle cx="486.6" cy="901.4" r="4.45"/><circle cx="282.8" cy="927.6" r="4.45"/><circle cx="310.5" cy="969.7" r="4.45"/><circle cx="299.6" cy="900.0" r="4.45"/><circle cx="294.9" cy="912.6" r="4.45"/><circle cx="416.7" cy="940.6" r="4.45"/><circle cx="478.3" cy="857.1" r="4.45"/><circle cx="260.0" cy="871.0" r="4.45"/><circle cx="485.8" cy="752.3" r="4.45"/><circle cx="522.8" cy="881.3" r="4.45"/><circle cx="488.4" cy="835.5" r="4.45"/><circle cx="426.8" cy="840.0" r="4.45"/><circle cx="299.0" cy="903.7" r="4.45"/><circle cx="510.1" cy="919.0" r="4.45"/><circle cx="427.2" cy="941.0" r="4.45"/><circle cx="390.6" cy="871.3" r="4.45"/><circle cx="521.6" cy="899.7" r="4.45"/><circle cx="436.1" cy="841.3" r="4.45"/><circle cx="413.8" cy="886.3" r="4.45"/><circle cx="316.0" cy="963.4" r="4.45"/><circle cx="521.7" cy="940.3" r="4.45"/><circle cx="431.3" cy="952.4" r="4.45"/><circle cx="484.4" cy="858.9" r="4.45"/><circle cx="450.6" cy="901.3" r="4.45"/><circle cx="225.8" cy="826.1" r="4.45"/><circle cx="407.4" cy="931.9" r="4.45"/><circle cx="428.9" cy="912.3" r="4.45"/><circle cx="351.4" cy="800.0" r="4.45"/><circle cx="483.2" cy="948.3" r="4.45"/><circle cx="302.5" cy="807.5" r="4.45"/><circle cx="399.2" cy="930.8" r="4.45"/><circle cx="270.2" cy="862.9" r="4.45"/><circle cx="216.3" cy="893.0" r="4.45"/><circle cx="367.3" cy="900.1" r="4.45"/><circle cx="352.5" cy="831.7" r="4.45"/><circle cx="367.2" cy="955.5" r="4.45"/><circle cx="319.3" cy="882.1" r="4.45"/><circle cx="375.4" cy="987.7" r="4.45"/><circle cx="467.9" cy="871.8" r="4.45"/><circle cx="501.7" cy="847.1" r="4.45"/><circle cx="368.9" cy="887.8" r="4.45"/><circle cx="398.8" cy="816.4" r="4.45"/><circle cx="419.4" cy="965.3" r="4.45"/><circle cx="427.1" cy="871.1" r="4.45"/><circle cx="344.7" cy="862.1" r="4.45"/><circle cx="265.9" cy="912.6" r="4.45"/><circle cx="456.9" cy="887.3" r="4.45"/><circle cx="209.9" cy="894.3" r="4.45"/><circle cx="377.5" cy="951.5" r="4.45"/><circle cx="505.2" cy="895.6" r="4.45"/><circle cx="431.3" cy="838.6" r="4.45"/><circle cx="353.5" cy="789.3" r="4.45"/><circle cx="317.6" cy="851.3" r="4.45"/><circle cx="374.1" cy="841.7" r="4.45"/><circle cx="357.7" cy="919.5" r="4.45"/><circle cx="335.3" cy="908.5" r="4.45"/><circle cx="481.7" cy="932.4" r="4.45"/><circle cx="315.2" cy="810.2" r="4.45"/><circle cx="436.4" cy="967.8" r="4.45"/><circle cx="452.2" cy="964.5" r="4.45"/><circle cx="269.1" cy="840.4" r="4.45"/><circle cx="526.0" cy="868.5" r="4.45"/><circle cx="289.2" cy="857.5" r="4.45"/><circle cx="397.6" cy="935.4" r="4.45"/><circle cx="396.7" cy="929.3" r="4.45"/><circle cx="425.0" cy="866.7" r="4.45"/><circle cx="287.4" cy="789.1" r="4.45"/><circle cx="378.2" cy="894.2" r="4.45"/><circle cx="334.4" cy="863.0" r="4.45"/><circle cx="438.8" cy="886.7" r="4.45"/><circle cx="379.1" cy="889.4" r="4.45"/><circle cx="253.1" cy="848.6" r="4.45"/><circle cx="223.4" cy="817.2" r="4.45"/><circle cx="332.7" cy="897.9" r="4.45"/><circle cx="531.4" cy="930.4" r="4.45"/><circle cx="463.0" cy="741.8" r="4.45"/><circle cx="300.6" cy="864.7" r="4.45"/><circle cx="242.1" cy="948.9" r="4.45"/><circle cx="248.3" cy="959.0" r="4.45"/><circle cx="436.4" cy="835.2" r="4.45"/><circle cx="373.4" cy="814.1" r="4.45"/><circle cx="402.9" cy="808.6" r="4.45"/><circle cx="300.6" cy="982.6" r="4.45"/><circle cx="306.5" cy="1002.6" r="4.45"/><circle cx="457.8" cy="951.9" r="4.45"/><circle cx="335.0" cy="904.4" r="4.45"/><circle cx="515.5" cy="894.5" r="4.45"/><circle cx="228.0" cy="778.1" r="4.45"/><circle cx="463.1" cy="847.3" r="4.45"/><circle cx="352.3" cy="855.5" r="4.45"/><circle cx="499.1" cy="878.8" r="4.45"/><circle cx="435.5" cy="956.5" r="4.45"/><circle cx="457.5" cy="952.5" r="4.45"/><circle cx="202.0" cy="905.8" r="4.45"/><circle cx="333.6" cy="762.7" r="4.45"/><circle cx="306.5" cy="926.1" r="4.45"/><circle cx="329.3" cy="789.7" r="4.45"/><circle cx="388.2" cy="956.3" r="4.45"/><circle cx="372.2" cy="924.6" r="4.45"/><circle cx="521.3" cy="892.5" r="4.45"/><circle cx="484.0" cy="795.1" r="4.45"/><circle cx="365.3" cy="945.7" r="4.45"/><circle cx="482.1" cy="906.4" r="4.45"/><circle cx="230.5" cy="848.7" r="4.45"/><circle cx="347.0" cy="868.0" r="4.45"/><circle cx="409.9" cy="933.9" r="4.45"/><circle cx="435.9" cy="840.6" r="4.45"/><circle cx="250.7" cy="868.4" r="4.45"/><circle cx="414.4" cy="753.2" r="4.45"/><circle cx="311.7" cy="861.1" r="4.45"/><circle cx="427.4" cy="940.7" r="4.45"/><circle cx="458.8" cy="908.3" r="4.45"/><circle cx="347.0" cy="796.5" r="4.45"/><circle cx="416.9" cy="839.0" r="4.45"/><circle cx="521.8" cy="866.2" r="4.45"/><circle cx="289.6" cy="778.3" r="4.45"/><circle cx="449.5" cy="905.9" r="4.45"/><circle cx="426.9" cy="947.5" r="4.45"/><circle cx="423.6" cy="881.0" r="4.45"/><circle cx="425.8" cy="942.9" r="4.45"/><circle cx="511.8" cy="957.8" r="4.45"/><circle cx="465.0" cy="839.4" r="4.45"/><circle cx="379.6" cy="853.2" r="4.45"/><circle cx="551.4" cy="948.7" r="4.45"/><circle cx="516.4" cy="836.5" r="4.45"/><circle cx="488.1" cy="858.4" r="4.45"/><circle cx="438.1" cy="754.7" r="4.45"/><circle cx="446.6" cy="906.6" r="4.45"/><circle cx="393.0" cy="870.6" r="4.45"/><circle cx="379.5" cy="935.2" r="4.45"/><circle cx="435.0" cy="912.5" r="4.45"/><circle cx="391.2" cy="800.6" r="4.45"/><circle cx="401.6" cy="913.1" r="4.45"/><circle cx="449.5" cy="932.8" r="4.45"/><circle cx="408.7" cy="935.6" r="4.45"/><circle cx="308.3" cy="856.0" r="4.45"/><circle cx="491.3" cy="924.7" r="4.45"/><circle cx="386.5" cy="917.6" r="4.45"/><circle cx="394.9" cy="816.4" r="4.45"/><circle cx="504.5" cy="914.9" r="4.45"/><circle cx="211.0" cy="787.5" r="4.45"/><circle cx="470.8" cy="930.4" r="4.45"/><circle cx="303.9" cy="857.6" r="4.45"/><circle cx="375.8" cy="849.1" r="4.45"/><circle cx="424.0" cy="769.4" r="4.45"/><circle cx="320.1" cy="844.0" r="4.45"/><circle cx="359.7" cy="797.7" r="4.45"/><circle cx="388.1" cy="916.7" r="4.45"/><circle cx="415.9" cy="897.0" r="4.45"/><circle cx="388.9" cy="976.3" r="4.45"/><circle cx="399.0" cy="934.8" r="4.45"/><circle cx="310.9" cy="918.1" r="4.45"/><circle cx="414.6" cy="899.6" r="4.45"/><circle cx="348.2" cy="827.2" r="4.45"/><circle cx="469.4" cy="824.2" r="4.45"/><circle cx="354.5" cy="863.4" r="4.45"/><circle cx="381.3" cy="903.0" r="4.45"/><circle cx="454.7" cy="822.3" r="4.45"/><circle cx="292.1" cy="881.2" r="4.45"/><circle cx="261.0" cy="893.6" r="4.45"/><circle cx="216.2" cy="893.2" r="4.45"/><circle cx="377.2" cy="891.5" r="4.45"/><circle cx="259.4" cy="871.1" r="4.45"/><circle cx="501.0" cy="933.9" r="4.45"/><circle cx="369.4" cy="926.6" r="4.45"/><circle cx="437.2" cy="838.1" r="4.45"/><circle cx="441.6" cy="837.6" r="4.45"/><circle cx="375.2" cy="908.1" r="4.45"/><circle cx="390.8" cy="922.3" r="4.45"/><circle cx="334.5" cy="868.7" r="4.45"/><circle cx="368.9" cy="927.7" r="4.45"/><circle cx="411.0" cy="928.9" r="4.45"/><circle cx="430.6" cy="957.6" r="4.45"/><circle cx="508.9" cy="913.1" r="4.45"/><circle cx="409.4" cy="745.2" r="4.45"/><circle cx="253.3" cy="783.3" r="4.45"/><circle cx="273.7" cy="838.0" r="4.45"/><circle cx="382.9" cy="791.4" r="4.45"/></g>
</g>
<g stroke="#000" stroke-width="1.95" fill="none"><path d="M65.84 508.90v6.5"/><path d="M37.43 479.91h-6.5"/><path d="M167.96 508.90v6.5"/><path d="M37.43 407.93h-6.5"/><path d="M270.08 508.90v6.5"/><path d="M37.43 335.95h-6.5"/><path d="M372.20 508.90v6.5"/><path d="M37.43 263.97h-6.5"/><path d="M474.32 508.90v6.5"/><path d="M37.43 191.99h-6.5"/><path d="M576.44 508.90v6.5"/><path d="M37.43 120.01h-6.5"/><path d="M678.56 508.90v6.5"/><path d="M37.43 48.03h-6.5"/></g><rect x="37.43" y="27.12" width="646.87" height="481.78" fill="none" stroke="#000" stroke-width="1.95" stroke-linejoin="miter"/><g class="tk" font-size="18.4"><text transform="translate(65.84 535.30) scale(1 1.045)" text-anchor="middle">−3</text><text transform="translate(25.03 486.91) scale(1 1.045)" text-anchor="end">−3</text><text transform="translate(167.96 535.30) scale(1 1.045)" text-anchor="middle">−2</text><text transform="translate(25.03 414.93) scale(1 1.045)" text-anchor="end">−2</text><text transform="translate(270.08 535.30) scale(1 1.045)" text-anchor="middle">−1</text><text transform="translate(25.03 342.95) scale(1 1.045)" text-anchor="end">−1</text><text transform="translate(372.20 535.30) scale(1 1.045)" text-anchor="middle">0</text><text transform="translate(25.03 270.97) scale(1 1.045)" text-anchor="end">0</text><text transform="translate(474.32 535.30) scale(1 1.045)" text-anchor="middle">1</text><text transform="translate(25.03 198.99) scale(1 1.045)" text-anchor="end">1</text><text transform="translate(576.44 535.30) scale(1 1.045)" text-anchor="middle">2</text><text transform="translate(25.03 127.01) scale(1 1.045)" text-anchor="end">2</text><text transform="translate(678.56 535.30) scale(1 1.045)" text-anchor="middle">3</text><text transform="translate(25.03 55.03) scale(1 1.045)" text-anchor="end">3</text></g><text class="tt" font-size="21.72" x="360.86" y="15.82" text-anchor="middle">Original Imbalanced Dataset</text><text class="cp" font-size="29" x="333.30" y="573.50">(<tspan class="cpa" font-size="26.3" dx="1">a</tspan><tspan dx="0.9">)</tspan></text>
<g stroke="#000" stroke-width="1.95" fill="none"><path d="M65.84 1120.60v6.5"/><path d="M37.43 1091.61h-6.5"/><path d="M167.96 1120.60v6.5"/><path d="M37.43 1019.63h-6.5"/><path d="M270.08 1120.60v6.5"/><path d="M37.43 947.65h-6.5"/><path d="M372.20 1120.60v6.5"/><path d="M37.43 875.67h-6.5"/><path d="M474.32 1120.60v6.5"/><path d="M37.43 803.69h-6.5"/><path d="M576.44 1120.60v6.5"/><path d="M37.43 731.71h-6.5"/><path d="M678.56 1120.60v6.5"/><path d="M37.43 659.73h-6.5"/></g><rect x="37.43" y="638.82" width="646.87" height="481.78" fill="none" stroke="#000" stroke-width="1.95" stroke-linejoin="miter"/><g class="tk" font-size="18.4"><text transform="translate(65.84 1147.00) scale(1 1.045)" text-anchor="middle">−3</text><text transform="translate(25.03 1098.61) scale(1 1.045)" text-anchor="end">−3</text><text transform="translate(167.96 1147.00) scale(1 1.045)" text-anchor="middle">−2</text><text transform="translate(25.03 1026.63) scale(1 1.045)" text-anchor="end">−2</text><text transform="translate(270.08 1147.00) scale(1 1.045)" text-anchor="middle">−1</text><text transform="translate(25.03 954.65) scale(1 1.045)" text-anchor="end">−1</text><text transform="translate(372.20 1147.00) scale(1 1.045)" text-anchor="middle">0</text><text transform="translate(25.03 882.67) scale(1 1.045)" text-anchor="end">0</text><text transform="translate(474.32 1147.00) scale(1 1.045)" text-anchor="middle">1</text><text transform="translate(25.03 810.69) scale(1 1.045)" text-anchor="end">1</text><text transform="translate(576.44 1147.00) scale(1 1.045)" text-anchor="middle">2</text><text transform="translate(25.03 738.71) scale(1 1.045)" text-anchor="end">2</text><text transform="translate(678.56 1147.00) scale(1 1.045)" text-anchor="middle">3</text><text transform="translate(25.03 666.73) scale(1 1.045)" text-anchor="end">3</text></g><text class="tt" font-size="21.72" x="360.86" y="627.52" text-anchor="middle">Dataset After Applying SMOTE</text><text class="cp" font-size="29" x="333.30" y="1191.90">(<tspan class="cpa" font-size="23.5" dx="1">b</tspan><tspan dx="0.9">)</tspan></text>
</svg>
</body></html>
